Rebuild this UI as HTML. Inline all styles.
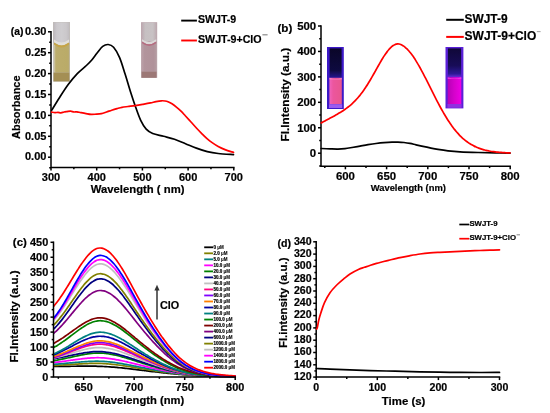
<!DOCTYPE html>
<html><head><meta charset="utf-8"><style>
html,body{margin:0;padding:0;background:#fff;}
body{width:550px;height:413px;overflow:hidden;}
text{stroke:#000;stroke-width:0.2px;} svg{display:block;will-change:transform;filter:blur(0.25px);font-family:"Liberation Sans", sans-serif;}
</style></head><body>
<svg width="550" height="413" viewBox="0 0 550 413">
<rect width="550" height="413" fill="#fff"/>
<defs><linearGradient id="gya" x1="0" x2="1" y1="0" y2="0"><stop offset="0" stop-color="#bdb8bc"/><stop offset="0.2" stop-color="#cbc8cc"/><stop offset="0.5" stop-color="#cfcdd0"/><stop offset="0.8" stop-color="#cbc8cb"/><stop offset="1" stop-color="#c0bcc0"/></linearGradient><linearGradient id="gyb" x1="0" x2="1" y1="0" y2="0"><stop offset="0" stop-color="#d2cec0"/><stop offset="0.14" stop-color="#bcad6c"/><stop offset="0.86" stop-color="#baab68"/><stop offset="1" stop-color="#b8ab72"/></linearGradient><linearGradient id="gpa" x1="0" x2="1" y1="0" y2="0"><stop offset="0" stop-color="#bca8b0"/><stop offset="0.25" stop-color="#c6c0c2"/><stop offset="0.75" stop-color="#c8c2c4"/><stop offset="1" stop-color="#bcaab0"/></linearGradient><linearGradient id="gpb" x1="0" x2="1" y1="0" y2="0"><stop offset="0" stop-color="#bba0a8"/><stop offset="0.2" stop-color="#b2949c"/><stop offset="0.8" stop-color="#b0929a"/><stop offset="1" stop-color="#b49ca2"/></linearGradient></defs>
<rect x="53" y="22" width="17" height="59.6" fill="#c2bdb8" />
<rect x="53.6" y="43" width="15.8" height="29.6" fill="url(#gyb)" />
<rect x="53.6" y="22.4" width="15.8" height="20.8" fill="url(#gya)" />
<path d="M54.0,39.6 Q61.5,45.6 69.0,39.6 L69.0,42.6 Q61.5,48.2 54.0,42.6 Z" fill="#e2e0da"/>
<path d="M54.0,42.6 Q61.5,48.2 69.0,42.6 L69.0,44.6 Q61.5,50.4 54.0,44.6 Z" fill="#c6a446"/>
<rect x="53.6" y="72.6" width="15.8" height="8.8" fill="#a48f54" />
<rect x="141" y="22.2" width="16.2" height="55.6" fill="#bfaab0" />
<rect x="141.6" y="41" width="15" height="30.6" fill="url(#gpb)" />
<rect x="141.6" y="22.6" width="15" height="18.8" fill="url(#gpa)" />
<path d="M142.0,39.2 Q149.1,44.6 156.2,39.2 L156.2,41.6 Q149.1,47.0 142.0,41.6 Z" fill="#dcd8d8"/>
<path d="M142.0,41.6 Q149.1,47.0 156.2,41.6 L156.2,43.2 Q149.1,48.6 142.0,43.2 Z" fill="#b66c80"/>
<rect x="141.6" y="71.6" width="15" height="6.2" fill="#9c7876" />
<path d="M51,31.8 L51,167.5 L233.8,167.5" fill="none" stroke="#000" stroke-width="1.5" stroke-linejoin="miter" stroke-linecap="square"/>
<line x1="51" y1="167.5" x2="51" y2="170.5" stroke="#000" stroke-width="1.5" stroke-linecap="butt"/>
<line x1="96.7" y1="167.5" x2="96.7" y2="170.5" stroke="#000" stroke-width="1.5" stroke-linecap="butt"/>
<line x1="142.4" y1="167.5" x2="142.4" y2="170.5" stroke="#000" stroke-width="1.5" stroke-linecap="butt"/>
<line x1="188.1" y1="167.5" x2="188.1" y2="170.5" stroke="#000" stroke-width="1.5" stroke-linecap="butt"/>
<line x1="233.8" y1="167.5" x2="233.8" y2="170.5" stroke="#000" stroke-width="1.5" stroke-linecap="butt"/>
<line x1="73.85" y1="167.5" x2="73.85" y2="169.3" stroke="#000" stroke-width="1.5" stroke-linecap="butt"/>
<line x1="119.55" y1="167.5" x2="119.55" y2="169.3" stroke="#000" stroke-width="1.5" stroke-linecap="butt"/>
<line x1="165.25" y1="167.5" x2="165.25" y2="169.3" stroke="#000" stroke-width="1.5" stroke-linecap="butt"/>
<line x1="210.95" y1="167.5" x2="210.95" y2="169.3" stroke="#000" stroke-width="1.5" stroke-linecap="butt"/>
<line x1="51" y1="157.2" x2="48" y2="157.2" stroke="#000" stroke-width="1.5" stroke-linecap="butt"/>
<line x1="51" y1="136.3" x2="48" y2="136.3" stroke="#000" stroke-width="1.5" stroke-linecap="butt"/>
<line x1="51" y1="115.4" x2="48" y2="115.4" stroke="#000" stroke-width="1.5" stroke-linecap="butt"/>
<line x1="51" y1="94.5" x2="48" y2="94.5" stroke="#000" stroke-width="1.5" stroke-linecap="butt"/>
<line x1="51" y1="73.6" x2="48" y2="73.6" stroke="#000" stroke-width="1.5" stroke-linecap="butt"/>
<line x1="51" y1="52.7" x2="48" y2="52.7" stroke="#000" stroke-width="1.5" stroke-linecap="butt"/>
<line x1="51" y1="31.8" x2="48" y2="31.8" stroke="#000" stroke-width="1.5" stroke-linecap="butt"/>
<line x1="51" y1="146.75" x2="49.2" y2="146.75" stroke="#000" stroke-width="1.5" stroke-linecap="butt"/>
<line x1="51" y1="125.85" x2="49.2" y2="125.85" stroke="#000" stroke-width="1.5" stroke-linecap="butt"/>
<line x1="51" y1="104.95" x2="49.2" y2="104.95" stroke="#000" stroke-width="1.5" stroke-linecap="butt"/>
<line x1="51" y1="84.05" x2="49.2" y2="84.05" stroke="#000" stroke-width="1.5" stroke-linecap="butt"/>
<line x1="51" y1="63.15" x2="49.2" y2="63.15" stroke="#000" stroke-width="1.5" stroke-linecap="butt"/>
<line x1="51" y1="42.25" x2="49.2" y2="42.25" stroke="#000" stroke-width="1.5" stroke-linecap="butt"/>
<line x1="51" y1="167.65" x2="49.2" y2="167.65" stroke="#000" stroke-width="1.5" stroke-linecap="butt"/>
<text x="46.4" y="160.4" font-size="11" text-anchor="end" font-weight="bold" fill="#000" >0.00</text>
<text x="46.4" y="139.5" font-size="11" text-anchor="end" font-weight="bold" fill="#000" >0.05</text>
<text x="46.4" y="118.6" font-size="11" text-anchor="end" font-weight="bold" fill="#000" >0.10</text>
<text x="46.4" y="97.7" font-size="11" text-anchor="end" font-weight="bold" fill="#000" >0.15</text>
<text x="46.4" y="76.8" font-size="11" text-anchor="end" font-weight="bold" fill="#000" >0.20</text>
<text x="46.4" y="55.9" font-size="11" text-anchor="end" font-weight="bold" fill="#000" >0.25</text>
<text x="46.4" y="35" font-size="11" text-anchor="end" font-weight="bold" fill="#000" >0.30</text>
<text x="10.8" y="34.8" font-size="10.3" text-anchor="start" font-weight="bold" fill="#000" >(a)</text>
<text x="51" y="180.9" font-size="11" text-anchor="middle" font-weight="bold" fill="#000" >300</text>
<text x="96.7" y="180.9" font-size="11" text-anchor="middle" font-weight="bold" fill="#000" >400</text>
<text x="142.4" y="180.9" font-size="11" text-anchor="middle" font-weight="bold" fill="#000" >500</text>
<text x="188.1" y="180.9" font-size="11" text-anchor="middle" font-weight="bold" fill="#000" >600</text>
<text x="233.8" y="180.9" font-size="11" text-anchor="middle" font-weight="bold" fill="#000" >700</text>
<text x="137.6" y="193" font-size="11.3" text-anchor="middle" font-weight="bold" fill="#000" >Wavelength ( nm)</text>
<text transform="translate(19.6,107.2) rotate(-90)" font-size="11" text-anchor="middle" font-weight="bold">Absorbance</text>
<line x1="181.2" y1="20.6" x2="196.9" y2="20.6" stroke="#000" stroke-width="1.9" stroke-linecap="butt"/>
<text x="198" y="23.3" font-size="10.6" text-anchor="start" font-weight="bold" fill="#000" >SWJT-9</text>
<line x1="181.2" y1="40.5" x2="196.9" y2="40.5" stroke="#ff0000" stroke-width="1.9" stroke-linecap="butt"/>
<text x="198" y="42.8" font-size="10.65" text-anchor="start" font-weight="bold" fill="#000" >SWJT-9+ClO</text>
<line x1="262.4" y1="34.8" x2="267.6" y2="34.8" stroke="#8a8a8a" stroke-width="1.2" stroke-linecap="butt"/>
<path d="M51.6,110.4 C52.85,108.37 56.33,102.52 59.1,98.2 C61.87,93.88 65.17,88.6 68.2,84.5 C71.23,80.4 74.27,76.77 77.3,73.6 C80.33,70.43 83.98,67.77 86.4,65.5 C88.82,63.23 89.98,62.13 91.8,60 C93.62,57.87 95.48,54.97 97.3,52.7 C99.12,50.43 100.88,47.77 102.7,46.4 C104.52,45.03 106.38,44.35 108.2,44.5 C110.02,44.65 111.7,45.12 113.6,47.3 C115.5,49.48 117.68,53.13 119.6,57.6 C121.52,62.07 123.22,68.18 125.1,74.1 C126.98,80.02 129.2,87.75 130.9,93.1 C132.6,98.45 133.67,101.65 135.3,106.2 C136.93,110.75 138.88,116.58 140.7,120.4 C142.52,124.22 144.2,126.92 146.2,129.1 C148.2,131.28 149.8,132.3 152.7,133.5 C155.6,134.7 159.97,135.33 163.6,136.3 C167.23,137.27 170.85,138.07 174.5,139.3 C178.15,140.53 181.85,142.23 185.5,143.7 C189.15,145.17 192.77,146.78 196.4,148.1 C200.03,149.42 203.67,150.7 207.3,151.6 C210.93,152.5 213.83,153 218.2,153.5 C222.57,154 230.95,154.42 233.5,154.6" fill="none" stroke="#000" stroke-width="1.7" stroke-linejoin="round" stroke-linecap="round" />
<path d="M51.6,112.1 C52.17,112.18 53.93,112.55 55,112.6 C56.07,112.65 57,112.37 58,112.4 C59,112.43 60,112.87 61,112.8 C62,112.73 63,112.2 64,112 C65,111.8 65.9,111.73 67,111.6 C68.1,111.47 69.43,111.13 70.6,111.2 C71.77,111.27 72.93,111.9 74,112 C75.07,112.1 75.87,111.7 77,111.8 C78.13,111.9 79.3,112.3 80.8,112.6 C82.3,112.9 84.28,113.3 86,113.6 C87.72,113.9 89.43,114.3 91.1,114.4 C92.77,114.5 94.28,114.33 96,114.2 C97.72,114.07 99.65,113.97 101.4,113.6 C103.15,113.23 104.78,112.57 106.5,112 C108.22,111.43 109.95,110.77 111.7,110.2 C113.45,109.63 115.28,109.08 117,108.6 C118.72,108.12 120.17,107.65 122,107.3 C123.83,106.95 125.78,106.78 128,106.5 C130.22,106.22 132.8,105.97 135.3,105.6 C137.8,105.23 140.47,104.75 143,104.3 C145.53,103.85 148.33,103.35 150.5,102.9 C152.67,102.45 154.17,101.95 156,101.6 C157.83,101.25 160,100.9 161.5,100.8 C163,100.7 163.92,100.83 165,101 C166.08,101.17 166.83,101.33 168,101.8 C169.17,102.27 170.55,102.88 172,103.8 C173.45,104.72 175.2,106.07 176.7,107.3 C178.2,108.53 179.53,109.75 181,111.2 C182.47,112.65 183.83,114.2 185.5,116 C187.17,117.8 189.18,120 191,122 C192.82,124 194.57,126.03 196.4,128 C198.23,129.97 200.18,131.98 202,133.8 C203.82,135.62 205.55,137.38 207.3,138.9 C209.05,140.42 210.68,141.63 212.5,142.9 C214.32,144.17 216.12,145.38 218.2,146.5 C220.28,147.62 222.45,148.62 225,149.6 C227.55,150.58 232.08,151.93 233.5,152.4" fill="none" stroke="#ff0000" stroke-width="1.7" stroke-linejoin="round" stroke-linecap="round" />
<defs><linearGradient id="gb1" x1="0" x2="0" y1="0" y2="1"><stop offset="0" stop-color="#0a0628"/><stop offset="0.75" stop-color="#0e0a40"/><stop offset="1" stop-color="#241690"/></linearGradient><linearGradient id="gb2" x1="0" x2="1" y1="0" y2="0"><stop offset="0" stop-color="#f064bc"/><stop offset="0.3" stop-color="#ec569e"/><stop offset="1" stop-color="#e8568e"/></linearGradient><linearGradient id="gc1" x1="0" x2="0" y1="0" y2="1"><stop offset="0" stop-color="#100838"/><stop offset="0.6" stop-color="#180c58"/><stop offset="0.88" stop-color="#2c1896"/><stop offset="1" stop-color="#6a2ad8"/></linearGradient><linearGradient id="gc2" x1="0" x2="1" y1="0" y2="0"><stop offset="0" stop-color="#b800b8"/><stop offset="0.5" stop-color="#d602cc"/><stop offset="1" stop-color="#ee00e4"/></linearGradient></defs>
<rect x="327" y="47" width="16.8" height="62" fill="#3c18c8" />
<rect x="329.6" y="48.4" width="12" height="29.4" fill="url(#gb1)" />
<rect x="329.4" y="77.8" width="12.4" height="26.4" fill="url(#gb2)" />
<path d="M329.4,77.8 Q335.6,80.4 341.8,77.8 L341.8,79.4 L329.4,79.4 Z" fill="#f88ac8" opacity="0.8"/>
<rect x="329" y="104.2" width="13.2" height="3.8" fill="#9a5cf0" />
<rect x="445.5" y="47" width="17.9" height="61.4" fill="#5a20d8" />
<rect x="447.9" y="48.4" width="13.2" height="28.8" fill="url(#gc1)" />
<rect x="447.7" y="77.2" width="13.6" height="26.8" fill="url(#gc2)" />
<path d="M447.7,77.2 Q454.5,80.0 461.3,77.2 L461.3,79.0 L447.7,79.0 Z" fill="#f040e8" opacity="0.8"/>
<rect x="447.4" y="104" width="14.2" height="3.8" fill="#9030e0" />
<path d="M321,26 L321,166.3 L510.2,166.3" fill="none" stroke="#000" stroke-width="1.5" stroke-linejoin="miter" stroke-linecap="square"/>
<line x1="345.4" y1="166.3" x2="345.4" y2="169.3" stroke="#000" stroke-width="1.5" stroke-linecap="butt"/>
<line x1="386.6" y1="166.3" x2="386.6" y2="169.3" stroke="#000" stroke-width="1.5" stroke-linecap="butt"/>
<line x1="427.8" y1="166.3" x2="427.8" y2="169.3" stroke="#000" stroke-width="1.5" stroke-linecap="butt"/>
<line x1="469" y1="166.3" x2="469" y2="169.3" stroke="#000" stroke-width="1.5" stroke-linecap="butt"/>
<line x1="510.2" y1="166.3" x2="510.2" y2="169.3" stroke="#000" stroke-width="1.5" stroke-linecap="butt"/>
<line x1="324.8" y1="166.3" x2="324.8" y2="168.1" stroke="#000" stroke-width="1.5" stroke-linecap="butt"/>
<line x1="366" y1="166.3" x2="366" y2="168.1" stroke="#000" stroke-width="1.5" stroke-linecap="butt"/>
<line x1="407.2" y1="166.3" x2="407.2" y2="168.1" stroke="#000" stroke-width="1.5" stroke-linecap="butt"/>
<line x1="448.4" y1="166.3" x2="448.4" y2="168.1" stroke="#000" stroke-width="1.5" stroke-linecap="butt"/>
<line x1="489.6" y1="166.3" x2="489.6" y2="168.1" stroke="#000" stroke-width="1.5" stroke-linecap="butt"/>
<line x1="321" y1="153.2" x2="318" y2="153.2" stroke="#000" stroke-width="1.5" stroke-linecap="butt"/>
<line x1="321" y1="127.76" x2="318" y2="127.76" stroke="#000" stroke-width="1.5" stroke-linecap="butt"/>
<line x1="321" y1="102.32" x2="318" y2="102.32" stroke="#000" stroke-width="1.5" stroke-linecap="butt"/>
<line x1="321" y1="76.88" x2="318" y2="76.88" stroke="#000" stroke-width="1.5" stroke-linecap="butt"/>
<line x1="321" y1="51.44" x2="318" y2="51.44" stroke="#000" stroke-width="1.5" stroke-linecap="butt"/>
<line x1="321" y1="26" x2="318" y2="26" stroke="#000" stroke-width="1.5" stroke-linecap="butt"/>
<line x1="321" y1="140.48" x2="319.2" y2="140.48" stroke="#000" stroke-width="1.5" stroke-linecap="butt"/>
<line x1="321" y1="115.04" x2="319.2" y2="115.04" stroke="#000" stroke-width="1.5" stroke-linecap="butt"/>
<line x1="321" y1="89.6" x2="319.2" y2="89.6" stroke="#000" stroke-width="1.5" stroke-linecap="butt"/>
<line x1="321" y1="64.16" x2="319.2" y2="64.16" stroke="#000" stroke-width="1.5" stroke-linecap="butt"/>
<line x1="321" y1="38.72" x2="319.2" y2="38.72" stroke="#000" stroke-width="1.5" stroke-linecap="butt"/>
<line x1="321" y1="165.92" x2="319.2" y2="165.92" stroke="#000" stroke-width="1.5" stroke-linecap="butt"/>
<text x="316.2" y="157" font-size="11.4" text-anchor="end" font-weight="bold" fill="#000" >0</text>
<text x="316.2" y="131.56" font-size="11.4" text-anchor="end" font-weight="bold" fill="#000" >100</text>
<text x="316.2" y="106.12" font-size="11.4" text-anchor="end" font-weight="bold" fill="#000" >200</text>
<text x="316.2" y="80.68" font-size="11.4" text-anchor="end" font-weight="bold" fill="#000" >300</text>
<text x="316.2" y="55.24" font-size="11.4" text-anchor="end" font-weight="bold" fill="#000" >400</text>
<text x="316.2" y="29.8" font-size="11.4" text-anchor="end" font-weight="bold" fill="#000" >500</text>
<text x="277.4" y="32.1" font-size="11.65" text-anchor="start" font-weight="bold" fill="#000" >(b)</text>
<text x="345.4" y="180.4" font-size="11.4" text-anchor="middle" font-weight="bold" fill="#000" >600</text>
<text x="386.6" y="180.4" font-size="11.4" text-anchor="middle" font-weight="bold" fill="#000" >650</text>
<text x="427.8" y="180.4" font-size="11.4" text-anchor="middle" font-weight="bold" fill="#000" >700</text>
<text x="469" y="180.4" font-size="11.4" text-anchor="middle" font-weight="bold" fill="#000" >750</text>
<text x="510.2" y="180.4" font-size="11.4" text-anchor="middle" font-weight="bold" fill="#000" >800</text>
<text x="408.3" y="191.4" font-size="9.4" text-anchor="middle" font-weight="bold" fill="#000" >Wavelength (nm)</text>
<text transform="translate(288.6,94.6) rotate(-90)" font-size="11.8" text-anchor="middle" font-weight="bold">Fl.Intensity (a.u.)</text>
<line x1="446.2" y1="19.8" x2="463.8" y2="19.8" stroke="#000" stroke-width="2.0" stroke-linecap="butt"/>
<text x="464.6" y="23" font-size="11.9" text-anchor="start" font-weight="bold" fill="#000" >SWJT-9</text>
<line x1="446.2" y1="36.9" x2="463.8" y2="36.9" stroke="#ff0000" stroke-width="2.0" stroke-linecap="butt"/>
<text x="464.6" y="40" font-size="12.0" text-anchor="start" font-weight="bold" fill="#000" >SWJT-9+ClO</text>
<line x1="536.8" y1="31.6" x2="540.6" y2="31.6" stroke="#a8a8a8" stroke-width="1.1" stroke-linecap="butt"/>
<path d="M321.2,148.5 C322.67,148.57 327.2,148.8 330,148.9 C332.8,149 335.5,149.15 338,149.1 C340.5,149.05 342.67,148.87 345,148.6 C347.33,148.33 349.5,147.92 352,147.5 C354.5,147.08 357.33,146.57 360,146.1 C362.67,145.63 365.33,145.13 368,144.7 C370.67,144.27 373.33,143.85 376,143.5 C378.67,143.15 381.33,142.83 384,142.6 C386.67,142.37 389.67,142.18 392,142.1 C394.33,142.02 396,142.03 398,142.1 C400,142.17 402,142.28 404,142.5 C406,142.72 408,143.02 410,143.4 C412,143.78 413.83,144.3 416,144.8 C418.17,145.3 420.67,145.88 423,146.4 C425.33,146.92 427.5,147.4 430,147.9 C432.5,148.4 435,148.92 438,149.4 C441,149.88 444.33,150.4 448,150.8 C451.67,151.2 455,151.52 460,151.8 C465,152.08 472.17,152.32 478,152.5 C483.83,152.68 489.67,152.78 495,152.9 C500.33,153.02 507.5,153.15 510,153.2" fill="none" stroke="#000" stroke-width="1.7" stroke-linejoin="round" stroke-linecap="round" />
<path d="M321.2,122.9 C321.45,122.77 322.2,122.37 322.7,122.1 C323.2,121.83 323.7,121.57 324.2,121.3 C324.7,121.03 325.2,120.77 325.7,120.5 C326.2,120.23 326.7,119.97 327.2,119.7 C327.7,119.43 328.2,119.17 328.7,118.9 C329.2,118.63 329.7,118.36 330.2,118.09 C330.7,117.83 331.2,117.56 331.7,117.29 C332.2,117.02 332.7,116.74 333.2,116.47 C333.7,116.2 334.2,115.92 334.7,115.64 C335.2,115.37 335.7,115.09 336.2,114.8 C336.7,114.52 337.2,114.23 337.7,113.94 C338.2,113.65 338.7,113.36 339.2,113.06 C339.7,112.77 340.2,112.46 340.7,112.16 C341.2,111.85 341.7,111.53 342.2,111.21 C342.7,110.89 343.2,110.57 343.7,110.23 C344.2,109.9 344.7,109.56 345.2,109.21 C345.7,108.86 346.2,108.5 346.7,108.13 C347.2,107.76 347.7,107.38 348.2,106.99 C348.7,106.6 349.2,106.2 349.7,105.79 C350.2,105.38 350.7,104.95 351.2,104.52 C351.7,104.08 352.2,103.63 352.7,103.16 C353.2,102.69 353.7,102.21 354.2,101.72 C354.7,101.22 355.2,100.71 355.7,100.18 C356.2,99.65 356.7,99.11 357.2,98.55 C357.7,97.99 358.2,97.41 358.7,96.82 C359.2,96.22 359.7,95.61 360.2,94.98 C360.7,94.34 361.2,93.7 361.7,93.03 C362.2,92.36 362.7,91.68 363.2,90.97 C363.7,90.27 364.2,89.55 364.7,88.82 C365.2,88.08 365.7,87.32 366.2,86.55 C366.7,85.78 367.2,85 367.7,84.2 C368.2,83.4 368.7,82.58 369.2,81.75 C369.7,80.93 370.2,80.08 370.7,79.23 C371.2,78.38 371.7,77.52 372.2,76.64 C372.7,75.77 373.2,74.89 373.7,74.01 C374.2,73.13 374.7,72.23 375.2,71.34 C375.7,70.45 376.2,69.55 376.7,68.66 C377.2,67.77 377.7,66.88 378.2,65.99 C378.7,65.11 379.2,64.23 379.7,63.36 C380.2,62.49 380.7,61.63 381.2,60.78 C381.7,59.94 382.2,59.1 382.7,58.29 C383.2,57.48 383.7,56.68 384.2,55.91 C384.7,55.14 385.2,54.39 385.7,53.67 C386.2,52.96 386.7,52.26 387.2,51.61 C387.7,50.95 388.2,50.32 388.7,49.73 C389.2,49.14 389.7,48.59 390.2,48.08 C390.7,47.57 391.2,47.1 391.7,46.67 C392.2,46.25 392.7,45.86 393.2,45.53 C393.7,45.2 394.2,44.91 394.7,44.68 C395.2,44.45 395.7,44.26 396.2,44.13 C396.7,44 397.2,43.92 397.7,43.9 C398.2,43.88 398.7,43.91 399.2,44 C399.7,44.09 400.2,44.24 400.7,44.44 C401.2,44.64 401.7,44.91 402.2,45.19 C402.7,45.48 403.2,45.81 403.7,46.17 C404.2,46.52 404.7,46.91 405.2,47.33 C405.7,47.75 406.2,48.2 406.7,48.68 C407.2,49.16 407.7,49.67 408.2,50.22 C408.7,50.76 409.2,51.33 409.7,51.93 C410.2,52.52 410.7,53.15 411.2,53.8 C411.7,54.46 412.2,55.14 412.7,55.84 C413.2,56.55 413.7,57.28 414.2,58.03 C414.7,58.78 415.2,59.56 415.7,60.36 C416.2,61.15 416.7,61.97 417.2,62.81 C417.7,63.65 418.2,64.5 418.7,65.38 C419.2,66.25 419.7,67.14 420.2,68.04 C420.7,68.95 421.2,69.87 421.7,70.8 C422.2,71.73 422.7,72.68 423.2,73.64 C423.7,74.59 424.2,75.56 424.7,76.53 C425.2,77.5 425.7,78.49 426.2,79.47 C426.7,80.46 427.2,81.46 427.7,82.45 C428.2,83.45 428.7,84.45 429.2,85.45 C429.7,86.45 430.2,87.46 430.7,88.46 C431.2,89.46 431.7,90.46 432.2,91.46 C432.7,92.46 433.2,93.46 433.7,94.45 C434.2,95.44 434.7,96.43 435.2,97.41 C435.7,98.39 436.2,99.36 436.7,100.33 C437.2,101.29 437.7,102.25 438.2,103.2 C438.7,104.15 439.2,105.09 439.7,106.02 C440.2,106.95 440.7,107.86 441.2,108.77 C441.7,109.67 442.2,110.57 442.7,111.45 C443.2,112.33 443.7,113.19 444.2,114.04 C444.7,114.9 445.2,115.73 445.7,116.56 C446.2,117.38 446.7,118.19 447.2,118.98 C447.7,119.77 448.2,120.55 448.7,121.31 C449.2,122.07 449.7,122.81 450.2,123.54 C450.7,124.27 451.2,124.98 451.7,125.67 C452.2,126.36 452.7,127.04 453.2,127.7 C453.7,128.36 454.2,129 454.7,129.63 C455.2,130.26 455.7,130.86 456.2,131.46 C456.7,132.05 457.2,132.62 457.7,133.18 C458.2,133.74 458.7,134.28 459.2,134.81 C459.7,135.34 460.2,135.84 460.7,136.34 C461.2,136.83 461.7,137.31 462.2,137.77 C462.7,138.23 463.2,138.68 463.7,139.11 C464.2,139.54 464.7,139.95 465.2,140.36 C465.7,140.76 466.2,141.14 466.7,141.52 C467.2,141.89 467.7,142.25 468.2,142.59 C468.7,142.94 469.2,143.27 469.7,143.59 C470.2,143.91 470.7,144.21 471.2,144.51 C471.7,144.8 472.2,145.08 472.7,145.36 C473.2,145.63 473.7,145.88 474.2,146.13 C474.7,146.38 475.2,146.62 475.7,146.85 C476.2,147.07 476.7,147.29 477.2,147.5 C477.7,147.71 478.2,147.91 478.7,148.1 C479.2,148.29 479.7,148.47 480.2,148.64 C480.7,148.81 481.2,148.97 481.7,149.13 C482.2,149.29 482.7,149.44 483.2,149.58 C483.7,149.72 484.2,149.86 484.7,149.98 C485.2,150.11 485.7,150.23 486.2,150.35 C486.7,150.47 487.2,150.58 487.7,150.68 C488.2,150.79 488.7,150.88 489.2,150.98 C489.7,151.07 490.2,151.16 490.7,151.24 C491.2,151.33 491.7,151.41 492.2,151.48 C492.7,151.56 493.2,151.63 493.7,151.7 C494.2,151.77 494.7,151.83 495.2,151.89 C495.7,151.95 496.2,152.01 496.7,152.06 C497.2,152.12 497.7,152.17 498.2,152.22 C498.7,152.26 499.2,152.31 499.7,152.35 C500.2,152.4 500.7,152.44 501.2,152.47 C501.7,152.51 502.2,152.55 502.7,152.58 C503.2,152.62 503.7,152.65 504.2,152.68 C504.7,152.71 505.2,152.73 505.7,152.76 C506.2,152.79 506.7,152.81 507.2,152.84 C507.7,152.86 508.23,152.88 508.7,152.9 C509.17,152.92 509.78,152.95 510,152.95" fill="none" stroke="#ff0000" stroke-width="1.7" stroke-linejoin="round" stroke-linecap="round" />
<defs><clipPath id="cpc"><rect x="53.5" y="200" width="190" height="177.6"/></clipPath></defs><g clip-path="url(#cpc)">
<path d="M53.3,366.52 C53.64,366.52 54.65,366.5 55.32,366.49 C55.99,366.48 56.67,366.46 57.34,366.45 C58.02,366.44 58.69,366.43 59.36,366.42 C60.04,366.41 60.71,366.4 61.38,366.39 C62.06,366.38 62.73,366.37 63.41,366.36 C64.08,366.35 64.75,366.34 65.43,366.33 C66.1,366.32 66.77,366.32 67.45,366.31 C68.12,366.3 68.8,366.29 69.47,366.28 C70.14,366.28 70.82,366.27 71.49,366.26 C72.16,366.26 72.84,366.25 73.51,366.24 C74.18,366.24 74.86,366.23 75.53,366.23 C76.21,366.22 76.88,366.21 77.55,366.21 C78.23,366.2 78.9,366.2 79.57,366.2 C80.25,366.19 80.92,366.19 81.6,366.18 C82.27,366.18 82.94,366.18 83.62,366.17 C84.29,366.17 84.96,366.17 85.64,366.17 C86.31,366.17 86.99,366.16 87.66,366.16 C88.33,366.16 89.01,366.16 89.68,366.16 C90.35,366.16 91.03,366.16 91.7,366.17 C92.37,366.17 93.05,366.18 93.72,366.19 C94.4,366.2 95.07,366.21 95.74,366.22 C96.42,366.24 97.09,366.26 97.76,366.28 C98.44,366.3 99.11,366.32 99.79,366.34 C100.46,366.37 101.13,366.4 101.81,366.43 C102.48,366.46 103.15,366.49 103.83,366.52 C104.5,366.56 105.18,366.59 105.85,366.63 C106.52,366.67 107.2,366.71 107.87,366.76 C108.54,366.8 109.22,366.85 109.89,366.9 C110.56,366.94 111.24,366.99 111.91,367.05 C112.59,367.1 113.26,367.15 113.93,367.21 C114.61,367.26 115.28,367.32 115.95,367.38 C116.63,367.44 117.3,367.5 117.98,367.56 C118.65,367.63 119.32,367.69 120,367.76 C120.67,367.82 121.34,367.89 122.02,367.96 C122.69,368.03 123.37,368.1 124.04,368.17 C124.71,368.24 125.39,368.32 126.06,368.39 C126.73,368.46 127.41,368.54 128.08,368.61 C128.75,368.69 129.43,368.77 130.1,368.84 C130.78,368.92 131.45,369 132.12,369.08 C132.8,369.16 133.47,369.24 134.14,369.32 C134.82,369.4 135.49,369.48 136.17,369.56 C136.84,369.64 137.51,369.73 138.19,369.81 C138.86,369.89 139.53,369.97 140.21,370.06 C140.88,370.14 141.56,370.22 142.23,370.3 C142.9,370.39 143.58,370.47 144.25,370.55 C144.92,370.64 145.6,370.72 146.27,370.8 C146.94,370.88 147.62,370.97 148.29,371.05 C148.97,371.13 149.64,371.21 150.31,371.29 C150.99,371.38 151.66,371.46 152.33,371.54 C153.01,371.62 153.68,371.7 154.36,371.78 C155.03,371.86 155.7,371.94 156.38,372.01 C157.05,372.09 157.72,372.17 158.4,372.25 C159.07,372.32 159.75,372.4 160.42,372.48 C161.09,372.55 161.77,372.63 162.44,372.7 C163.11,372.77 163.79,372.85 164.46,372.92 C165.13,372.99 165.81,373.06 166.48,373.13 C167.16,373.2 167.83,373.27 168.5,373.34 C169.18,373.41 169.85,373.47 170.52,373.54 C171.2,373.61 171.87,373.67 172.55,373.73 C173.22,373.8 173.89,373.86 174.57,373.92 C175.24,373.98 175.91,374.04 176.59,374.1 C177.26,374.16 177.94,374.22 178.61,374.28 C179.28,374.34 179.96,374.39 180.63,374.45 C181.3,374.5 181.98,374.55 182.65,374.61 C183.32,374.66 184,374.71 184.67,374.76 C185.35,374.81 186.02,374.86 186.69,374.91 C187.37,374.95 188.04,375 188.71,375.05 C189.39,375.09 190.06,375.14 190.74,375.18 C191.41,375.22 192.08,375.27 192.76,375.31 C193.43,375.35 194.1,375.39 194.78,375.43 C195.45,375.47 196.13,375.5 196.8,375.54 C197.47,375.58 198.15,375.61 198.82,375.65 C199.49,375.68 200.17,375.72 200.84,375.75 C201.51,375.78 202.19,375.81 202.86,375.84 C203.54,375.88 204.21,375.9 204.88,375.93 C205.56,375.96 206.23,375.99 206.9,376.02 C207.58,376.04 208.25,376.07 208.93,376.1 C209.6,376.12 210.27,376.15 210.95,376.17 C211.62,376.19 212.29,376.22 212.97,376.24 C213.64,376.26 214.32,376.28 214.99,376.3 C215.66,376.32 216.34,376.34 217.01,376.36 C217.68,376.38 218.36,376.4 219.03,376.42 C219.7,376.43 220.38,376.45 221.05,376.47 C221.73,376.48 222.4,376.5 223.07,376.52 C223.75,376.53 224.42,376.55 225.09,376.56 C225.77,376.57 226.44,376.59 227.12,376.6 C227.79,376.61 228.46,376.62 229.14,376.64 C229.81,376.65 230.48,376.66 231.16,376.67 C231.83,376.68 232.51,376.69 233.18,376.7 C233.85,376.71 234.86,376.73 235.2,376.73" fill="none" stroke="#000000" stroke-width="1.7" stroke-linejoin="round" stroke-linecap="round" />
<path d="M53.3,365.54 C53.64,365.52 54.65,365.46 55.32,365.43 C55.99,365.39 56.67,365.35 57.34,365.31 C58.02,365.27 58.69,365.23 59.36,365.19 C60.04,365.15 60.71,365.11 61.38,365.07 C62.06,365.03 62.73,364.98 63.41,364.94 C64.08,364.9 64.75,364.86 65.43,364.81 C66.1,364.77 66.77,364.73 67.45,364.68 C68.12,364.64 68.8,364.6 69.47,364.55 C70.14,364.51 70.82,364.47 71.49,364.42 C72.16,364.38 72.84,364.34 73.51,364.3 C74.18,364.25 74.86,364.21 75.53,364.17 C76.21,364.13 76.88,364.09 77.55,364.05 C78.23,364.01 78.9,363.97 79.57,363.93 C80.25,363.9 80.92,363.86 81.6,363.82 C82.27,363.79 82.94,363.75 83.62,363.72 C84.29,363.69 84.96,363.65 85.64,363.62 C86.31,363.59 86.99,363.57 87.66,363.54 C88.33,363.51 89.01,363.49 89.68,363.46 C90.35,363.44 91.03,363.42 91.7,363.41 C92.37,363.39 93.05,363.38 93.72,363.38 C94.4,363.37 95.07,363.37 95.74,363.37 C96.42,363.37 97.09,363.38 97.76,363.39 C98.44,363.4 99.11,363.42 99.79,363.44 C100.46,363.46 101.13,363.49 101.81,363.52 C102.48,363.55 103.15,363.58 103.83,363.62 C104.5,363.66 105.18,363.7 105.85,363.75 C106.52,363.8 107.2,363.85 107.87,363.9 C108.54,363.96 109.22,364.02 109.89,364.08 C110.56,364.14 111.24,364.21 111.91,364.28 C112.59,364.35 113.26,364.42 113.93,364.49 C114.61,364.57 115.28,364.65 115.95,364.73 C116.63,364.81 117.3,364.89 117.98,364.98 C118.65,365.07 119.32,365.16 120,365.25 C120.67,365.34 121.34,365.44 122.02,365.53 C122.69,365.63 123.37,365.73 124.04,365.83 C124.71,365.93 125.39,366.03 126.06,366.13 C126.73,366.23 127.41,366.34 128.08,366.45 C128.75,366.55 129.43,366.66 130.1,366.77 C130.78,366.88 131.45,366.99 132.12,367.1 C132.8,367.21 133.47,367.32 134.14,367.43 C134.82,367.54 135.49,367.65 136.17,367.76 C136.84,367.88 137.51,367.99 138.19,368.1 C138.86,368.21 139.53,368.33 140.21,368.44 C140.88,368.55 141.56,368.66 142.23,368.77 C142.9,368.89 143.58,369 144.25,369.11 C144.92,369.22 145.6,369.33 146.27,369.44 C146.94,369.55 147.62,369.66 148.29,369.77 C148.97,369.88 149.64,369.99 150.31,370.1 C150.99,370.21 151.66,370.32 152.33,370.42 C153.01,370.53 153.68,370.63 154.36,370.74 C155.03,370.84 155.7,370.95 156.38,371.05 C157.05,371.15 157.72,371.26 158.4,371.36 C159.07,371.46 159.75,371.56 160.42,371.65 C161.09,371.75 161.77,371.85 162.44,371.95 C163.11,372.04 163.79,372.14 164.46,372.23 C165.13,372.32 165.81,372.41 166.48,372.5 C167.16,372.59 167.83,372.68 168.5,372.77 C169.18,372.86 169.85,372.94 170.52,373.03 C171.2,373.11 171.87,373.19 172.55,373.27 C173.22,373.36 173.89,373.44 174.57,373.51 C175.24,373.59 175.91,373.67 176.59,373.74 C177.26,373.81 177.94,373.89 178.61,373.96 C179.28,374.03 179.96,374.1 180.63,374.17 C181.3,374.23 181.98,374.3 182.65,374.36 C183.32,374.43 184,374.49 184.67,374.55 C185.35,374.61 186.02,374.67 186.69,374.72 C187.37,374.78 188.04,374.84 188.71,374.89 C189.39,374.94 190.06,375 190.74,375.05 C191.41,375.1 192.08,375.15 192.76,375.19 C193.43,375.24 194.1,375.29 194.78,375.33 C195.45,375.38 196.13,375.42 196.8,375.46 C197.47,375.5 198.15,375.54 198.82,375.58 C199.49,375.62 200.17,375.66 200.84,375.7 C201.51,375.73 202.19,375.77 202.86,375.8 C203.54,375.84 204.21,375.87 204.88,375.9 C205.56,375.93 206.23,375.96 206.9,375.99 C207.58,376.02 208.25,376.05 208.93,376.08 C209.6,376.1 210.27,376.13 210.95,376.15 C211.62,376.18 212.29,376.2 212.97,376.23 C213.64,376.25 214.32,376.27 214.99,376.29 C215.66,376.31 216.34,376.33 217.01,376.35 C217.68,376.37 218.36,376.39 219.03,376.41 C219.7,376.43 220.38,376.45 221.05,376.46 C221.73,376.48 222.4,376.5 223.07,376.51 C223.75,376.53 224.42,376.54 225.09,376.56 C225.77,376.57 226.44,376.58 227.12,376.6 C227.79,376.61 228.46,376.62 229.14,376.63 C229.81,376.65 230.48,376.66 231.16,376.67 C231.83,376.68 232.51,376.69 233.18,376.7 C233.85,376.71 234.86,376.73 235.2,376.73" fill="none" stroke="#808000" stroke-width="1.7" stroke-linejoin="round" stroke-linecap="round" />
<path d="M53.3,364.34 C53.64,364.31 54.65,364.24 55.32,364.19 C55.99,364.14 56.67,364.09 57.34,364.03 C58.02,363.98 58.69,363.92 59.36,363.86 C60.04,363.81 60.71,363.75 61.38,363.69 C62.06,363.63 62.73,363.57 63.41,363.51 C64.08,363.45 64.75,363.39 65.43,363.33 C66.1,363.27 66.77,363.21 67.45,363.15 C68.12,363.08 68.8,363.02 69.47,362.96 C70.14,362.9 70.82,362.84 71.49,362.78 C72.16,362.71 72.84,362.65 73.51,362.59 C74.18,362.53 74.86,362.47 75.53,362.41 C76.21,362.35 76.88,362.29 77.55,362.24 C78.23,362.18 78.9,362.12 79.57,362.07 C80.25,362.01 80.92,361.96 81.6,361.9 C82.27,361.85 82.94,361.8 83.62,361.75 C84.29,361.7 84.96,361.66 85.64,361.61 C86.31,361.57 86.99,361.52 87.66,361.48 C88.33,361.44 89.01,361.41 89.68,361.37 C90.35,361.34 91.03,361.31 91.7,361.28 C92.37,361.26 93.05,361.24 93.72,361.23 C94.4,361.21 95.07,361.2 95.74,361.2 C96.42,361.2 97.09,361.2 97.76,361.21 C98.44,361.22 99.11,361.23 99.79,361.26 C100.46,361.28 101.13,361.3 101.81,361.34 C102.48,361.37 103.15,361.41 103.83,361.45 C104.5,361.49 105.18,361.54 105.85,361.59 C106.52,361.65 107.2,361.71 107.87,361.77 C108.54,361.83 109.22,361.9 109.89,361.97 C110.56,362.05 111.24,362.12 111.91,362.21 C112.59,362.29 113.26,362.37 113.93,362.46 C114.61,362.55 115.28,362.64 115.95,362.74 C116.63,362.84 117.3,362.94 117.98,363.04 C118.65,363.14 119.32,363.25 120,363.36 C120.67,363.47 121.34,363.58 122.02,363.69 C122.69,363.81 123.37,363.93 124.04,364.05 C124.71,364.16 125.39,364.29 126.06,364.41 C126.73,364.53 127.41,364.66 128.08,364.78 C128.75,364.91 129.43,365.04 130.1,365.17 C130.78,365.3 131.45,365.43 132.12,365.56 C132.8,365.69 133.47,365.82 134.14,365.96 C134.82,366.09 135.49,366.22 136.17,366.35 C136.84,366.49 137.51,366.62 138.19,366.75 C138.86,366.89 139.53,367.02 140.21,367.15 C140.88,367.29 141.56,367.42 142.23,367.55 C142.9,367.68 143.58,367.82 144.25,367.95 C144.92,368.08 145.6,368.21 146.27,368.34 C146.94,368.47 147.62,368.6 148.29,368.73 C148.97,368.86 149.64,368.99 150.31,369.11 C150.99,369.24 151.66,369.37 152.33,369.49 C153.01,369.62 153.68,369.74 154.36,369.86 C155.03,369.99 155.7,370.11 156.38,370.23 C157.05,370.35 157.72,370.47 158.4,370.59 C159.07,370.7 159.75,370.82 160.42,370.94 C161.09,371.05 161.77,371.16 162.44,371.28 C163.11,371.39 163.79,371.5 164.46,371.61 C165.13,371.72 165.81,371.82 166.48,371.93 C167.16,372.03 167.83,372.14 168.5,372.24 C169.18,372.34 169.85,372.44 170.52,372.54 C171.2,372.63 171.87,372.73 172.55,372.82 C173.22,372.92 173.89,373.01 174.57,373.1 C175.24,373.19 175.91,373.28 176.59,373.36 C177.26,373.45 177.94,373.53 178.61,373.61 C179.28,373.7 179.96,373.78 180.63,373.85 C181.3,373.93 181.98,374.01 182.65,374.08 C183.32,374.15 184,374.22 184.67,374.29 C185.35,374.36 186.02,374.43 186.69,374.49 C187.37,374.56 188.04,374.62 188.71,374.68 C189.39,374.74 190.06,374.8 190.74,374.86 C191.41,374.92 192.08,374.97 192.76,375.03 C193.43,375.08 194.1,375.13 194.78,375.18 C195.45,375.23 196.13,375.28 196.8,375.33 C197.47,375.37 198.15,375.42 198.82,375.46 C199.49,375.51 200.17,375.55 200.84,375.59 C201.51,375.63 202.19,375.67 202.86,375.71 C203.54,375.74 204.21,375.78 204.88,375.81 C205.56,375.85 206.23,375.88 206.9,375.91 C207.58,375.95 208.25,375.98 208.93,376.01 C209.6,376.04 210.27,376.06 210.95,376.09 C211.62,376.12 212.29,376.14 212.97,376.17 C213.64,376.19 214.32,376.22 214.99,376.24 C215.66,376.26 216.34,376.29 217.01,376.31 C217.68,376.33 218.36,376.35 219.03,376.37 C219.7,376.39 220.38,376.41 221.05,376.42 C221.73,376.44 222.4,376.46 223.07,376.48 C223.75,376.49 224.42,376.51 225.09,376.52 C225.77,376.54 226.44,376.55 227.12,376.57 C227.79,376.58 228.46,376.6 229.14,376.61 C229.81,376.62 230.48,376.64 231.16,376.65 C231.83,376.66 232.51,376.67 233.18,376.68 C233.85,376.7 234.86,376.71 235.2,376.72" fill="none" stroke="#008080" stroke-width="1.7" stroke-linejoin="round" stroke-linecap="round" />
<path d="M53.3,362.54 C53.64,362.51 54.65,362.4 55.32,362.33 C55.99,362.25 56.67,362.17 57.34,362.09 C58.02,362.01 58.69,361.93 59.36,361.85 C60.04,361.76 60.71,361.68 61.38,361.59 C62.06,361.5 62.73,361.41 63.41,361.32 C64.08,361.23 64.75,361.14 65.43,361.05 C66.1,360.96 66.77,360.86 67.45,360.77 C68.12,360.68 68.8,360.58 69.47,360.49 C70.14,360.39 70.82,360.3 71.49,360.2 C72.16,360.11 72.84,360.02 73.51,359.93 C74.18,359.83 74.86,359.74 75.53,359.65 C76.21,359.56 76.88,359.47 77.55,359.38 C78.23,359.29 78.9,359.2 79.57,359.12 C80.25,359.03 80.92,358.95 81.6,358.87 C82.27,358.78 82.94,358.71 83.62,358.63 C84.29,358.55 84.96,358.48 85.64,358.41 C86.31,358.34 86.99,358.28 87.66,358.21 C88.33,358.15 89.01,358.09 89.68,358.04 C90.35,357.98 91.03,357.94 91.7,357.89 C92.37,357.85 93.05,357.82 93.72,357.79 C94.4,357.76 95.07,357.74 95.74,357.73 C96.42,357.72 97.09,357.71 97.76,357.72 C98.44,357.72 99.11,357.73 99.79,357.75 C100.46,357.77 101.13,357.8 101.81,357.84 C102.48,357.87 103.15,357.91 103.83,357.96 C104.5,358.01 105.18,358.07 105.85,358.14 C106.52,358.2 107.2,358.27 107.87,358.35 C108.54,358.42 109.22,358.51 109.89,358.6 C110.56,358.69 111.24,358.78 111.91,358.88 C112.59,358.98 113.26,359.09 113.93,359.2 C114.61,359.31 115.28,359.43 115.95,359.55 C116.63,359.67 117.3,359.8 117.98,359.93 C118.65,360.06 119.32,360.19 120,360.33 C120.67,360.47 121.34,360.61 122.02,360.75 C122.69,360.9 123.37,361.05 124.04,361.2 C124.71,361.35 125.39,361.5 126.06,361.66 C126.73,361.81 127.41,361.97 128.08,362.13 C128.75,362.29 129.43,362.45 130.1,362.62 C130.78,362.78 131.45,362.94 132.12,363.11 C132.8,363.27 133.47,363.44 134.14,363.61 C134.82,363.78 135.49,363.94 136.17,364.11 C136.84,364.28 137.51,364.45 138.19,364.61 C138.86,364.78 139.53,364.95 140.21,365.11 C140.88,365.28 141.56,365.45 142.23,365.61 C142.9,365.78 143.58,365.94 144.25,366.11 C144.92,366.27 145.6,366.43 146.27,366.6 C146.94,366.76 147.62,366.92 148.29,367.08 C148.97,367.24 149.64,367.4 150.31,367.56 C150.99,367.71 151.66,367.87 152.33,368.03 C153.01,368.18 153.68,368.33 154.36,368.49 C155.03,368.64 155.7,368.79 156.38,368.94 C157.05,369.09 157.72,369.23 158.4,369.38 C159.07,369.53 159.75,369.67 160.42,369.81 C161.09,369.95 161.77,370.09 162.44,370.23 C163.11,370.37 163.79,370.5 164.46,370.64 C165.13,370.77 165.81,370.9 166.48,371.03 C167.16,371.16 167.83,371.29 168.5,371.41 C169.18,371.54 169.85,371.66 170.52,371.78 C171.2,371.9 171.87,372.02 172.55,372.13 C173.22,372.25 173.89,372.36 174.57,372.47 C175.24,372.58 175.91,372.68 176.59,372.79 C177.26,372.89 177.94,372.99 178.61,373.09 C179.28,373.19 179.96,373.29 180.63,373.38 C181.3,373.47 181.98,373.56 182.65,373.65 C183.32,373.74 184,373.82 184.67,373.91 C185.35,373.99 186.02,374.07 186.69,374.15 C187.37,374.22 188.04,374.3 188.71,374.37 C189.39,374.44 190.06,374.51 190.74,374.58 C191.41,374.65 192.08,374.71 192.76,374.78 C193.43,374.84 194.1,374.9 194.78,374.96 C195.45,375.02 196.13,375.07 196.8,375.13 C197.47,375.18 198.15,375.24 198.82,375.29 C199.49,375.34 200.17,375.38 200.84,375.43 C201.51,375.48 202.19,375.52 202.86,375.57 C203.54,375.61 204.21,375.65 204.88,375.69 C205.56,375.73 206.23,375.77 206.9,375.8 C207.58,375.84 208.25,375.87 208.93,375.91 C209.6,375.94 210.27,375.97 210.95,376 C211.62,376.03 212.29,376.06 212.97,376.09 C213.64,376.12 214.32,376.15 214.99,376.17 C215.66,376.2 216.34,376.22 217.01,376.24 C217.68,376.27 218.36,376.29 219.03,376.31 C219.7,376.33 220.38,376.35 221.05,376.37 C221.73,376.39 222.4,376.41 223.07,376.43 C223.75,376.45 224.42,376.46 225.09,376.48 C225.77,376.5 226.44,376.51 227.12,376.53 C227.79,376.55 228.46,376.56 229.14,376.57 C229.81,376.59 230.48,376.6 231.16,376.62 C231.83,376.63 232.51,376.64 233.18,376.66 C233.85,376.67 234.86,376.69 235.2,376.7" fill="none" stroke="#ff00ff" stroke-width="1.7" stroke-linejoin="round" stroke-linecap="round" />
<path d="M53.3,360.75 C53.64,360.69 54.65,360.53 55.32,360.42 C55.99,360.3 56.67,360.18 57.34,360.06 C58.02,359.94 58.69,359.81 59.36,359.68 C60.04,359.55 60.71,359.42 61.38,359.28 C62.06,359.15 62.73,359.01 63.41,358.87 C64.08,358.73 64.75,358.58 65.43,358.44 C66.1,358.3 66.77,358.15 67.45,358 C68.12,357.85 68.8,357.71 69.47,357.56 C70.14,357.41 70.82,357.26 71.49,357.11 C72.16,356.97 72.84,356.82 73.51,356.67 C74.18,356.52 74.86,356.38 75.53,356.23 C76.21,356.09 76.88,355.94 77.55,355.8 C78.23,355.66 78.9,355.52 79.57,355.38 C80.25,355.25 80.92,355.11 81.6,354.98 C82.27,354.85 82.94,354.73 83.62,354.6 C84.29,354.48 84.96,354.36 85.64,354.25 C86.31,354.14 86.99,354.03 87.66,353.93 C88.33,353.83 89.01,353.73 89.68,353.65 C90.35,353.56 91.03,353.48 91.7,353.41 C92.37,353.34 93.05,353.28 93.72,353.23 C94.4,353.18 95.07,353.13 95.74,353.1 C96.42,353.07 97.09,353.05 97.76,353.04 C98.44,353.04 99.11,353.04 99.79,353.05 C100.46,353.07 101.13,353.09 101.81,353.13 C102.48,353.17 103.15,353.21 103.83,353.27 C104.5,353.33 105.18,353.4 105.85,353.47 C106.52,353.55 107.2,353.64 107.87,353.73 C108.54,353.83 109.22,353.93 109.89,354.04 C110.56,354.16 111.24,354.28 111.91,354.41 C112.59,354.53 113.26,354.67 113.93,354.81 C114.61,354.96 115.28,355.11 115.95,355.26 C116.63,355.42 117.3,355.58 117.98,355.75 C118.65,355.92 119.32,356.09 120,356.27 C120.67,356.45 121.34,356.63 122.02,356.82 C122.69,357 123.37,357.2 124.04,357.39 C124.71,357.59 125.39,357.79 126.06,357.99 C126.73,358.19 127.41,358.4 128.08,358.61 C128.75,358.82 129.43,359.03 130.1,359.24 C130.78,359.45 131.45,359.66 132.12,359.88 C132.8,360.09 133.47,360.31 134.14,360.53 C134.82,360.74 135.49,360.96 136.17,361.18 C136.84,361.39 137.51,361.61 138.19,361.82 C138.86,362.04 139.53,362.25 140.21,362.47 C140.88,362.68 141.56,362.89 142.23,363.1 C142.9,363.32 143.58,363.53 144.25,363.74 C144.92,363.95 145.6,364.16 146.27,364.36 C146.94,364.57 147.62,364.78 148.29,364.98 C148.97,365.18 149.64,365.38 150.31,365.59 C150.99,365.79 151.66,365.98 152.33,366.18 C153.01,366.38 153.68,366.57 154.36,366.76 C155.03,366.96 155.7,367.15 156.38,367.34 C157.05,367.52 157.72,367.71 158.4,367.89 C159.07,368.08 159.75,368.26 160.42,368.44 C161.09,368.62 161.77,368.79 162.44,368.97 C163.11,369.14 163.79,369.31 164.46,369.48 C165.13,369.64 165.81,369.81 166.48,369.97 C167.16,370.13 167.83,370.29 168.5,370.45 C169.18,370.6 169.85,370.76 170.52,370.9 C171.2,371.05 171.87,371.2 172.55,371.34 C173.22,371.49 173.89,371.62 174.57,371.76 C175.24,371.89 175.91,372.03 176.59,372.15 C177.26,372.28 177.94,372.41 178.61,372.53 C179.28,372.65 179.96,372.77 180.63,372.88 C181.3,373 181.98,373.11 182.65,373.21 C183.32,373.32 184,373.42 184.67,373.52 C185.35,373.62 186.02,373.72 186.69,373.81 C187.37,373.9 188.04,373.99 188.71,374.08 C189.39,374.16 190.06,374.25 190.74,374.33 C191.41,374.41 192.08,374.48 192.76,374.56 C193.43,374.63 194.1,374.7 194.78,374.77 C195.45,374.84 196.13,374.91 196.8,374.97 C197.47,375.03 198.15,375.09 198.82,375.15 C199.49,375.21 200.17,375.26 200.84,375.32 C201.51,375.37 202.19,375.42 202.86,375.47 C203.54,375.52 204.21,375.57 204.88,375.61 C205.56,375.65 206.23,375.7 206.9,375.74 C207.58,375.78 208.25,375.81 208.93,375.85 C209.6,375.89 210.27,375.92 210.95,375.96 C211.62,375.99 212.29,376.02 212.97,376.05 C213.64,376.08 214.32,376.11 214.99,376.14 C215.66,376.16 216.34,376.19 217.01,376.21 C217.68,376.24 218.36,376.26 219.03,376.29 C219.7,376.31 220.38,376.33 221.05,376.35 C221.73,376.37 222.4,376.39 223.07,376.41 C223.75,376.43 224.42,376.44 225.09,376.46 C225.77,376.48 226.44,376.5 227.12,376.51 C227.79,376.53 228.46,376.54 229.14,376.56 C229.81,376.58 230.48,376.59 231.16,376.61 C231.83,376.62 232.51,376.63 233.18,376.65 C233.85,376.66 234.86,376.69 235.2,376.69" fill="none" stroke="#008000" stroke-width="1.7" stroke-linejoin="round" stroke-linecap="round" />
<path d="M53.3,358.74 C53.64,358.69 54.65,358.53 55.32,358.43 C55.99,358.32 56.67,358.2 57.34,358.08 C58.02,357.97 58.69,357.85 59.36,357.72 C60.04,357.6 60.71,357.47 61.38,357.34 C62.06,357.22 62.73,357.08 63.41,356.95 C64.08,356.82 64.75,356.68 65.43,356.55 C66.1,356.41 66.77,356.27 67.45,356.13 C68.12,355.99 68.8,355.85 69.47,355.71 C70.14,355.58 70.82,355.43 71.49,355.29 C72.16,355.16 72.84,355.02 73.51,354.88 C74.18,354.74 74.86,354.6 75.53,354.47 C76.21,354.33 76.88,354.2 77.55,354.06 C78.23,353.93 78.9,353.8 79.57,353.67 C80.25,353.54 80.92,353.42 81.6,353.3 C82.27,353.17 82.94,353.06 83.62,352.94 C84.29,352.83 84.96,352.72 85.64,352.61 C86.31,352.51 86.99,352.41 87.66,352.32 C88.33,352.22 89.01,352.13 89.68,352.05 C90.35,351.97 91.03,351.9 91.7,351.83 C92.37,351.77 93.05,351.71 93.72,351.67 C94.4,351.62 95.07,351.59 95.74,351.57 C96.42,351.54 97.09,351.53 97.76,351.53 C98.44,351.53 99.11,351.54 99.79,351.56 C100.46,351.58 101.13,351.61 101.81,351.65 C102.48,351.7 103.15,351.75 103.83,351.81 C104.5,351.88 105.18,351.95 105.85,352.04 C106.52,352.12 107.2,352.21 107.87,352.31 C108.54,352.41 109.22,352.53 109.89,352.64 C110.56,352.76 111.24,352.89 111.91,353.02 C112.59,353.16 113.26,353.3 113.93,353.45 C114.61,353.6 115.28,353.76 115.95,353.92 C116.63,354.08 117.3,354.25 117.98,354.43 C118.65,354.6 119.32,354.78 120,354.97 C120.67,355.15 121.34,355.34 122.02,355.54 C122.69,355.73 123.37,355.93 124.04,356.14 C124.71,356.34 125.39,356.55 126.06,356.76 C126.73,356.97 127.41,357.18 128.08,357.4 C128.75,357.61 129.43,357.83 130.1,358.05 C130.78,358.27 131.45,358.49 132.12,358.72 C132.8,358.94 133.47,359.16 134.14,359.39 C134.82,359.61 135.49,359.84 136.17,360.07 C136.84,360.29 137.51,360.52 138.19,360.74 C138.86,360.97 139.53,361.19 140.21,361.41 C140.88,361.64 141.56,361.86 142.23,362.08 C142.9,362.3 143.58,362.52 144.25,362.74 C144.92,362.96 145.6,363.18 146.27,363.4 C146.94,363.61 147.62,363.83 148.29,364.04 C148.97,364.26 149.64,364.47 150.31,364.68 C150.99,364.89 151.66,365.1 152.33,365.31 C153.01,365.51 153.68,365.72 154.36,365.92 C155.03,366.12 155.7,366.32 156.38,366.52 C157.05,366.72 157.72,366.92 158.4,367.11 C159.07,367.3 159.75,367.5 160.42,367.69 C161.09,367.87 161.77,368.06 162.44,368.24 C163.11,368.43 163.79,368.61 164.46,368.78 C165.13,368.96 165.81,369.13 166.48,369.31 C167.16,369.48 167.83,369.65 168.5,369.81 C169.18,369.98 169.85,370.14 170.52,370.3 C171.2,370.45 171.87,370.61 172.55,370.76 C173.22,370.91 173.89,371.06 174.57,371.2 C175.24,371.35 175.91,371.49 176.59,371.63 C177.26,371.76 177.94,371.9 178.61,372.03 C179.28,372.16 179.96,372.28 180.63,372.4 C181.3,372.53 181.98,372.64 182.65,372.76 C183.32,372.87 184,372.98 184.67,373.09 C185.35,373.2 186.02,373.3 186.69,373.4 C187.37,373.5 188.04,373.6 188.71,373.7 C189.39,373.79 190.06,373.88 190.74,373.97 C191.41,374.05 192.08,374.14 192.76,374.22 C193.43,374.3 194.1,374.38 194.78,374.45 C195.45,374.53 196.13,374.6 196.8,374.67 C197.47,374.74 198.15,374.81 198.82,374.87 C199.49,374.94 200.17,375 200.84,375.06 C201.51,375.12 202.19,375.18 202.86,375.23 C203.54,375.28 204.21,375.34 204.88,375.39 C205.56,375.44 206.23,375.48 206.9,375.53 C207.58,375.57 208.25,375.62 208.93,375.66 C209.6,375.7 210.27,375.74 210.95,375.78 C211.62,375.82 212.29,375.85 212.97,375.89 C213.64,375.92 214.32,375.96 214.99,375.99 C215.66,376.02 216.34,376.05 217.01,376.08 C217.68,376.11 218.36,376.13 219.03,376.16 C219.7,376.19 220.38,376.21 221.05,376.24 C221.73,376.26 222.4,376.28 223.07,376.3 C223.75,376.32 224.42,376.35 225.09,376.37 C225.77,376.39 226.44,376.41 227.12,376.43 C227.79,376.45 228.46,376.46 229.14,376.48 C229.81,376.5 230.48,376.52 231.16,376.53 C231.83,376.55 232.51,376.57 233.18,376.58 C233.85,376.6 234.86,376.63 235.2,376.63" fill="none" stroke="#000080" stroke-width="1.7" stroke-linejoin="round" stroke-linecap="round" />
<path d="M53.3,358.14 C53.64,358.07 54.65,357.85 55.32,357.7 C55.99,357.55 56.67,357.39 57.34,357.22 C58.02,357.05 58.69,356.88 59.36,356.71 C60.04,356.53 60.71,356.35 61.38,356.17 C62.06,355.98 62.73,355.79 63.41,355.6 C64.08,355.41 64.75,355.22 65.43,355.02 C66.1,354.83 66.77,354.62 67.45,354.42 C68.12,354.22 68.8,354.02 69.47,353.82 C70.14,353.62 70.82,353.41 71.49,353.21 C72.16,353.01 72.84,352.81 73.51,352.61 C74.18,352.41 74.86,352.21 75.53,352.01 C76.21,351.81 76.88,351.61 77.55,351.42 C78.23,351.22 78.9,351.03 79.57,350.84 C80.25,350.66 80.92,350.47 81.6,350.29 C82.27,350.12 82.94,349.94 83.62,349.78 C84.29,349.61 84.96,349.45 85.64,349.29 C86.31,349.14 86.99,348.99 87.66,348.85 C88.33,348.71 89.01,348.58 89.68,348.46 C90.35,348.34 91.03,348.23 91.7,348.13 C92.37,348.03 93.05,347.94 93.72,347.87 C94.4,347.79 95.07,347.73 95.74,347.68 C96.42,347.64 97.09,347.6 97.76,347.59 C98.44,347.57 99.11,347.56 99.79,347.58 C100.46,347.59 101.13,347.61 101.81,347.65 C102.48,347.69 103.15,347.75 103.83,347.82 C104.5,347.88 105.18,347.96 105.85,348.06 C106.52,348.15 107.2,348.26 107.87,348.37 C108.54,348.49 109.22,348.62 109.89,348.76 C110.56,348.89 111.24,349.04 111.91,349.2 C112.59,349.36 113.26,349.53 113.93,349.71 C114.61,349.89 115.28,350.08 115.95,350.27 C116.63,350.47 117.3,350.67 117.98,350.88 C118.65,351.09 119.32,351.31 120,351.53 C120.67,351.75 121.34,351.98 122.02,352.22 C122.69,352.45 123.37,352.7 124.04,352.94 C124.71,353.19 125.39,353.44 126.06,353.7 C126.73,353.95 127.41,354.21 128.08,354.47 C128.75,354.73 129.43,355 130.1,355.26 C130.78,355.53 131.45,355.8 132.12,356.06 C132.8,356.33 133.47,356.61 134.14,356.88 C134.82,357.15 135.49,357.42 136.17,357.69 C136.84,357.96 137.51,358.23 138.19,358.5 C138.86,358.77 139.53,359.04 140.21,359.31 C140.88,359.57 141.56,359.84 142.23,360.1 C142.9,360.37 143.58,360.63 144.25,360.89 C144.92,361.15 145.6,361.41 146.27,361.67 C146.94,361.93 147.62,362.18 148.29,362.44 C148.97,362.69 149.64,362.94 150.31,363.19 C150.99,363.44 151.66,363.69 152.33,363.93 C153.01,364.17 153.68,364.41 154.36,364.65 C155.03,364.89 155.7,365.13 156.38,365.36 C157.05,365.59 157.72,365.82 158.4,366.05 C159.07,366.28 159.75,366.5 160.42,366.72 C161.09,366.95 161.77,367.16 162.44,367.38 C163.11,367.59 163.79,367.8 164.46,368.01 C165.13,368.21 165.81,368.42 166.48,368.62 C167.16,368.82 167.83,369.01 168.5,369.2 C169.18,369.4 169.85,369.58 170.52,369.77 C171.2,369.95 171.87,370.13 172.55,370.31 C173.22,370.48 173.89,370.65 174.57,370.82 C175.24,370.98 175.91,371.14 176.59,371.3 C177.26,371.46 177.94,371.61 178.61,371.76 C179.28,371.91 179.96,372.05 180.63,372.19 C181.3,372.33 181.98,372.46 182.65,372.59 C183.32,372.72 184,372.84 184.67,372.96 C185.35,373.08 186.02,373.2 186.69,373.31 C187.37,373.42 188.04,373.53 188.71,373.63 C189.39,373.74 190.06,373.84 190.74,373.93 C191.41,374.03 192.08,374.12 192.76,374.21 C193.43,374.3 194.1,374.38 194.78,374.46 C195.45,374.54 196.13,374.62 196.8,374.69 C197.47,374.77 198.15,374.84 198.82,374.91 C199.49,374.98 200.17,375.04 200.84,375.1 C201.51,375.17 202.19,375.23 202.86,375.28 C203.54,375.34 204.21,375.39 204.88,375.45 C205.56,375.5 206.23,375.54 206.9,375.59 C207.58,375.64 208.25,375.68 208.93,375.72 C209.6,375.76 210.27,375.8 210.95,375.84 C211.62,375.88 212.29,375.92 212.97,375.95 C213.64,375.98 214.32,376.02 214.99,376.05 C215.66,376.08 216.34,376.11 217.01,376.13 C217.68,376.16 218.36,376.19 219.03,376.21 C219.7,376.24 220.38,376.26 221.05,376.28 C221.73,376.31 222.4,376.33 223.07,376.35 C223.75,376.37 224.42,376.39 225.09,376.41 C225.77,376.43 226.44,376.45 227.12,376.46 C227.79,376.48 228.46,376.5 229.14,376.52 C229.81,376.53 230.48,376.55 231.16,376.57 C231.83,376.59 232.51,376.6 233.18,376.62 C233.85,376.63 234.86,376.66 235.2,376.67" fill="none" stroke="#c0c0c0" stroke-width="1.7" stroke-linejoin="round" stroke-linecap="round" />
<path d="M53.3,357.75 C53.64,357.66 54.65,357.39 55.32,357.2 C55.99,357.01 56.67,356.81 57.34,356.6 C58.02,356.39 58.69,356.17 59.36,355.95 C60.04,355.73 60.71,355.5 61.38,355.27 C62.06,355.03 62.73,354.8 63.41,354.55 C64.08,354.31 64.75,354.06 65.43,353.82 C66.1,353.57 66.77,353.31 67.45,353.06 C68.12,352.8 68.8,352.55 69.47,352.29 C70.14,352.03 70.82,351.77 71.49,351.51 C72.16,351.26 72.84,351 73.51,350.74 C74.18,350.48 74.86,350.23 75.53,349.98 C76.21,349.72 76.88,349.47 77.55,349.22 C78.23,348.97 78.9,348.73 79.57,348.49 C80.25,348.25 80.92,348.01 81.6,347.78 C82.27,347.55 82.94,347.33 83.62,347.12 C84.29,346.9 84.96,346.69 85.64,346.49 C86.31,346.3 86.99,346.11 87.66,345.93 C88.33,345.75 89.01,345.58 89.68,345.42 C90.35,345.27 91.03,345.12 91.7,344.99 C92.37,344.86 93.05,344.75 93.72,344.65 C94.4,344.55 95.07,344.46 95.74,344.39 C96.42,344.32 97.09,344.27 97.76,344.24 C98.44,344.21 99.11,344.19 99.79,344.19 C100.46,344.2 101.13,344.22 101.81,344.25 C102.48,344.29 103.15,344.35 103.83,344.42 C104.5,344.49 105.18,344.57 105.85,344.67 C106.52,344.77 107.2,344.89 107.87,345.02 C108.54,345.15 109.22,345.29 109.89,345.45 C110.56,345.6 111.24,345.77 111.91,345.95 C112.59,346.13 113.26,346.33 113.93,346.53 C114.61,346.73 115.28,346.95 115.95,347.17 C116.63,347.39 117.3,347.62 117.98,347.86 C118.65,348.1 119.32,348.36 120,348.61 C120.67,348.87 121.34,349.13 122.02,349.4 C122.69,349.67 123.37,349.95 124.04,350.23 C124.71,350.52 125.39,350.81 126.06,351.1 C126.73,351.39 127.41,351.69 128.08,351.99 C128.75,352.29 129.43,352.6 130.1,352.9 C130.78,353.21 131.45,353.51 132.12,353.82 C132.8,354.13 133.47,354.44 134.14,354.76 C134.82,355.07 135.49,355.38 136.17,355.69 C136.84,356 137.51,356.31 138.19,356.62 C138.86,356.92 139.53,357.23 140.21,357.53 C140.88,357.84 141.56,358.14 142.23,358.44 C142.9,358.74 143.58,359.04 144.25,359.34 C144.92,359.64 145.6,359.93 146.27,360.22 C146.94,360.51 147.62,360.8 148.29,361.09 C148.97,361.38 149.64,361.66 150.31,361.94 C150.99,362.23 151.66,362.51 152.33,362.78 C153.01,363.06 153.68,363.33 154.36,363.6 C155.03,363.87 155.7,364.13 156.38,364.4 C157.05,364.66 157.72,364.92 158.4,365.18 C159.07,365.43 159.75,365.69 160.42,365.93 C161.09,366.18 161.77,366.43 162.44,366.67 C163.11,366.91 163.79,367.14 164.46,367.38 C165.13,367.61 165.81,367.84 166.48,368.06 C167.16,368.28 167.83,368.5 168.5,368.72 C169.18,368.93 169.85,369.14 170.52,369.35 C171.2,369.55 171.87,369.75 172.55,369.95 C173.22,370.14 173.89,370.33 174.57,370.51 C175.24,370.7 175.91,370.88 176.59,371.05 C177.26,371.23 177.94,371.39 178.61,371.56 C179.28,371.72 179.96,371.88 180.63,372.03 C181.3,372.18 181.98,372.33 182.65,372.47 C183.32,372.61 184,372.74 184.67,372.88 C185.35,373.01 186.02,373.13 186.69,373.25 C187.37,373.38 188.04,373.49 188.71,373.6 C189.39,373.71 190.06,373.82 190.74,373.92 C191.41,374.03 192.08,374.12 192.76,374.22 C193.43,374.31 194.1,374.4 194.78,374.49 C195.45,374.57 196.13,374.66 196.8,374.73 C197.47,374.81 198.15,374.89 198.82,374.96 C199.49,375.03 200.17,375.1 200.84,375.16 C201.51,375.23 202.19,375.29 202.86,375.35 C203.54,375.41 204.21,375.46 204.88,375.51 C205.56,375.56 206.23,375.61 206.9,375.66 C207.58,375.7 208.25,375.75 208.93,375.79 C209.6,375.83 210.27,375.87 210.95,375.91 C211.62,375.95 212.29,375.98 212.97,376.01 C213.64,376.05 214.32,376.08 214.99,376.11 C215.66,376.14 216.34,376.17 217.01,376.19 C217.68,376.22 218.36,376.24 219.03,376.27 C219.7,376.29 220.38,376.31 221.05,376.34 C221.73,376.36 222.4,376.37 223.07,376.39 C223.75,376.41 224.42,376.43 225.09,376.45 C225.77,376.47 226.44,376.49 227.12,376.5 C227.79,376.52 228.46,376.54 229.14,376.55 C229.81,376.57 230.48,376.59 231.16,376.6 C231.83,376.62 232.51,376.63 233.18,376.65 C233.85,376.67 234.86,376.7 235.2,376.7" fill="none" stroke="#ff0080" stroke-width="1.7" stroke-linejoin="round" stroke-linecap="round" />
<path d="M53.3,357.39 C53.64,357.29 54.65,357 55.32,356.79 C55.99,356.58 56.67,356.36 57.34,356.13 C58.02,355.91 58.69,355.67 59.36,355.43 C60.04,355.18 60.71,354.93 61.38,354.68 C62.06,354.43 62.73,354.17 63.41,353.9 C64.08,353.64 64.75,353.37 65.43,353.09 C66.1,352.82 66.77,352.54 67.45,352.26 C68.12,351.99 68.8,351.71 69.47,351.42 C70.14,351.14 70.82,350.86 71.49,350.57 C72.16,350.29 72.84,350.01 73.51,349.73 C74.18,349.45 74.86,349.17 75.53,348.89 C76.21,348.61 76.88,348.34 77.55,348.06 C78.23,347.79 78.9,347.52 79.57,347.26 C80.25,347 80.92,346.74 81.6,346.49 C82.27,346.24 82.94,345.99 83.62,345.76 C84.29,345.52 84.96,345.29 85.64,345.07 C86.31,344.86 86.99,344.65 87.66,344.45 C88.33,344.26 89.01,344.07 89.68,343.9 C90.35,343.73 91.03,343.57 91.7,343.42 C92.37,343.28 93.05,343.15 93.72,343.04 C94.4,342.93 95.07,342.83 95.74,342.75 C96.42,342.68 97.09,342.62 97.76,342.58 C98.44,342.54 99.11,342.52 99.79,342.52 C100.46,342.52 101.13,342.54 101.81,342.57 C102.48,342.61 103.15,342.66 103.83,342.74 C104.5,342.81 105.18,342.9 105.85,343 C106.52,343.11 107.2,343.23 107.87,343.36 C108.54,343.5 109.22,343.65 109.89,343.81 C110.56,343.98 111.24,344.16 111.91,344.35 C112.59,344.54 113.26,344.74 113.93,344.96 C114.61,345.17 115.28,345.4 115.95,345.63 C116.63,345.87 117.3,346.11 117.98,346.37 C118.65,346.63 119.32,346.89 120,347.16 C120.67,347.44 121.34,347.72 122.02,348 C122.69,348.29 123.37,348.59 124.04,348.89 C124.71,349.19 125.39,349.5 126.06,349.81 C126.73,350.12 127.41,350.43 128.08,350.75 C128.75,351.07 129.43,351.39 130.1,351.72 C130.78,352.04 131.45,352.37 132.12,352.7 C132.8,353.02 133.47,353.36 134.14,353.69 C134.82,354.02 135.49,354.35 136.17,354.68 C136.84,355 137.51,355.33 138.19,355.66 C138.86,355.98 139.53,356.31 140.21,356.63 C140.88,356.95 141.56,357.27 142.23,357.59 C142.9,357.91 143.58,358.23 144.25,358.54 C144.92,358.86 145.6,359.17 146.27,359.48 C146.94,359.78 147.62,360.09 148.29,360.39 C148.97,360.7 149.64,361 150.31,361.3 C150.99,361.59 151.66,361.89 152.33,362.18 C153.01,362.47 153.68,362.76 154.36,363.04 C155.03,363.33 155.7,363.61 156.38,363.89 C157.05,364.16 157.72,364.44 158.4,364.71 C159.07,364.98 159.75,365.24 160.42,365.51 C161.09,365.77 161.77,366.03 162.44,366.28 C163.11,366.53 163.79,366.78 164.46,367.03 C165.13,367.27 165.81,367.51 166.48,367.75 C167.16,367.98 167.83,368.21 168.5,368.44 C169.18,368.66 169.85,368.88 170.52,369.1 C171.2,369.31 171.87,369.53 172.55,369.73 C173.22,369.93 173.89,370.13 174.57,370.33 C175.24,370.52 175.91,370.71 176.59,370.89 C177.26,371.07 177.94,371.25 178.61,371.42 C179.28,371.59 179.96,371.76 180.63,371.92 C181.3,372.07 181.98,372.23 182.65,372.37 C183.32,372.52 184,372.66 184.67,372.8 C185.35,372.93 186.02,373.07 186.69,373.19 C187.37,373.32 188.04,373.44 188.71,373.56 C189.39,373.67 190.06,373.78 190.74,373.89 C191.41,373.99 192.08,374.1 192.76,374.19 C193.43,374.29 194.1,374.38 194.78,374.47 C195.45,374.56 196.13,374.64 196.8,374.73 C197.47,374.81 198.15,374.88 198.82,374.96 C199.49,375.03 200.17,375.1 200.84,375.17 C201.51,375.23 202.19,375.29 202.86,375.35 C203.54,375.41 204.21,375.47 204.88,375.52 C205.56,375.58 206.23,375.62 206.9,375.67 C207.58,375.72 208.25,375.76 208.93,375.8 C209.6,375.85 210.27,375.89 210.95,375.92 C211.62,375.96 212.29,376 212.97,376.03 C213.64,376.06 214.32,376.1 214.99,376.13 C215.66,376.15 216.34,376.18 217.01,376.21 C217.68,376.23 218.36,376.26 219.03,376.28 C219.7,376.3 220.38,376.33 221.05,376.35 C221.73,376.37 222.4,376.39 223.07,376.4 C223.75,376.42 224.42,376.44 225.09,376.46 C225.77,376.48 226.44,376.5 227.12,376.51 C227.79,376.53 228.46,376.55 229.14,376.56 C229.81,376.58 230.48,376.6 231.16,376.61 C231.83,376.63 232.51,376.64 233.18,376.66 C233.85,376.68 234.86,376.71 235.2,376.71" fill="none" stroke="#8000ff" stroke-width="1.7" stroke-linejoin="round" stroke-linecap="round" />
<path d="M53.3,356.47 C53.64,356.36 54.65,356.05 55.32,355.83 C55.99,355.61 56.67,355.38 57.34,355.14 C58.02,354.9 58.69,354.65 59.36,354.39 C60.04,354.14 60.71,353.87 61.38,353.61 C62.06,353.34 62.73,353.06 63.41,352.79 C64.08,352.51 64.75,352.22 65.43,351.93 C66.1,351.65 66.77,351.35 67.45,351.06 C68.12,350.77 68.8,350.47 69.47,350.17 C70.14,349.88 70.82,349.58 71.49,349.28 C72.16,348.98 72.84,348.68 73.51,348.39 C74.18,348.09 74.86,347.79 75.53,347.5 C76.21,347.21 76.88,346.92 77.55,346.63 C78.23,346.34 78.9,346.06 79.57,345.78 C80.25,345.5 80.92,345.23 81.6,344.97 C82.27,344.7 82.94,344.45 83.62,344.2 C84.29,343.95 84.96,343.71 85.64,343.48 C86.31,343.25 86.99,343.03 87.66,342.82 C88.33,342.62 89.01,342.42 89.68,342.24 C90.35,342.06 91.03,341.89 91.7,341.74 C92.37,341.59 93.05,341.45 93.72,341.33 C94.4,341.22 95.07,341.11 95.74,341.03 C96.42,340.95 97.09,340.89 97.76,340.85 C98.44,340.8 99.11,340.78 99.79,340.78 C100.46,340.78 101.13,340.8 101.81,340.84 C102.48,340.88 103.15,340.93 103.83,341.01 C104.5,341.08 105.18,341.18 105.85,341.29 C106.52,341.4 107.2,341.53 107.87,341.67 C108.54,341.81 109.22,341.97 109.89,342.14 C110.56,342.31 111.24,342.5 111.91,342.7 C112.59,342.9 113.26,343.12 113.93,343.34 C114.61,343.57 115.28,343.8 115.95,344.05 C116.63,344.3 117.3,344.56 117.98,344.83 C118.65,345.1 119.32,345.38 120,345.66 C120.67,345.95 121.34,346.24 122.02,346.54 C122.69,346.85 123.37,347.16 124.04,347.47 C124.71,347.79 125.39,348.11 126.06,348.44 C126.73,348.77 127.41,349.1 128.08,349.43 C128.75,349.77 129.43,350.11 130.1,350.45 C130.78,350.79 131.45,351.13 132.12,351.48 C132.8,351.82 133.47,352.17 134.14,352.52 C134.82,352.87 135.49,353.21 136.17,353.56 C136.84,353.9 137.51,354.25 138.19,354.59 C138.86,354.93 139.53,355.27 140.21,355.61 C140.88,355.95 141.56,356.29 142.23,356.62 C142.9,356.96 143.58,357.29 144.25,357.62 C144.92,357.95 145.6,358.28 146.27,358.6 C146.94,358.93 147.62,359.25 148.29,359.57 C148.97,359.89 149.64,360.2 150.31,360.52 C150.99,360.83 151.66,361.14 152.33,361.45 C153.01,361.75 153.68,362.05 154.36,362.35 C155.03,362.65 155.7,362.95 156.38,363.24 C157.05,363.53 157.72,363.82 158.4,364.1 C159.07,364.38 159.75,364.67 160.42,364.94 C161.09,365.22 161.77,365.49 162.44,365.75 C163.11,366.02 163.79,366.28 164.46,366.54 C165.13,366.79 165.81,367.05 166.48,367.29 C167.16,367.54 167.83,367.78 168.5,368.02 C169.18,368.26 169.85,368.49 170.52,368.71 C171.2,368.94 171.87,369.16 172.55,369.38 C173.22,369.59 173.89,369.8 174.57,370 C175.24,370.21 175.91,370.4 176.59,370.6 C177.26,370.79 177.94,370.97 178.61,371.15 C179.28,371.33 179.96,371.51 180.63,371.67 C181.3,371.84 181.98,372 182.65,372.15 C183.32,372.31 184,372.46 184.67,372.6 C185.35,372.74 186.02,372.88 186.69,373.01 C187.37,373.14 188.04,373.27 188.71,373.39 C189.39,373.52 190.06,373.63 190.74,373.74 C191.41,373.85 192.08,373.96 192.76,374.06 C193.43,374.16 194.1,374.26 194.78,374.35 C195.45,374.45 196.13,374.54 196.8,374.62 C197.47,374.71 198.15,374.79 198.82,374.86 C199.49,374.94 200.17,375.01 200.84,375.08 C201.51,375.15 202.19,375.22 202.86,375.28 C203.54,375.34 204.21,375.4 204.88,375.46 C205.56,375.51 206.23,375.56 206.9,375.61 C207.58,375.66 208.25,375.71 208.93,375.75 C209.6,375.8 210.27,375.84 210.95,375.88 C211.62,375.92 212.29,375.95 212.97,375.99 C213.64,376.02 214.32,376.06 214.99,376.09 C215.66,376.12 216.34,376.14 217.01,376.17 C217.68,376.2 218.36,376.23 219.03,376.25 C219.7,376.27 220.38,376.3 221.05,376.32 C221.73,376.34 222.4,376.36 223.07,376.38 C223.75,376.4 224.42,376.42 225.09,376.44 C225.77,376.46 226.44,376.47 227.12,376.49 C227.79,376.51 228.46,376.53 229.14,376.54 C229.81,376.56 230.48,376.58 231.16,376.6 C231.83,376.61 232.51,376.63 233.18,376.65 C233.85,376.66 234.86,376.69 235.2,376.7" fill="none" stroke="#ff8000" stroke-width="1.7" stroke-linejoin="round" stroke-linecap="round" />
<path d="M53.3,354.97 C53.64,354.84 54.65,354.48 55.32,354.22 C55.99,353.96 56.67,353.68 57.34,353.4 C58.02,353.11 58.69,352.81 59.36,352.51 C60.04,352.21 60.71,351.9 61.38,351.58 C62.06,351.26 62.73,350.93 63.41,350.6 C64.08,350.27 64.75,349.93 65.43,349.59 C66.1,349.25 66.77,348.9 67.45,348.55 C68.12,348.2 68.8,347.85 69.47,347.49 C70.14,347.14 70.82,346.78 71.49,346.43 C72.16,346.07 72.84,345.72 73.51,345.36 C74.18,345.01 74.86,344.66 75.53,344.31 C76.21,343.96 76.88,343.61 77.55,343.27 C78.23,342.93 78.9,342.59 79.57,342.26 C80.25,341.93 80.92,341.6 81.6,341.28 C82.27,340.97 82.94,340.66 83.62,340.37 C84.29,340.07 84.96,339.78 85.64,339.5 C86.31,339.23 86.99,338.97 87.66,338.72 C88.33,338.47 89.01,338.24 89.68,338.02 C90.35,337.81 91.03,337.6 91.7,337.42 C92.37,337.24 93.05,337.08 93.72,336.93 C94.4,336.79 95.07,336.66 95.74,336.56 C96.42,336.46 97.09,336.38 97.76,336.33 C98.44,336.27 99.11,336.24 99.79,336.23 C100.46,336.22 101.13,336.24 101.81,336.28 C102.48,336.32 103.15,336.38 103.83,336.46 C104.5,336.54 105.18,336.65 105.85,336.77 C106.52,336.89 107.2,337.03 107.87,337.19 C108.54,337.35 109.22,337.53 109.89,337.73 C110.56,337.92 111.24,338.13 111.91,338.36 C112.59,338.59 113.26,338.83 113.93,339.09 C114.61,339.34 115.28,339.61 115.95,339.9 C116.63,340.18 117.3,340.47 117.98,340.78 C118.65,341.08 119.32,341.41 120,341.73 C120.67,342.06 121.34,342.39 122.02,342.74 C122.69,343.08 123.37,343.44 124.04,343.8 C124.71,344.16 125.39,344.53 126.06,344.9 C126.73,345.28 127.41,345.65 128.08,346.04 C128.75,346.42 129.43,346.81 130.1,347.2 C130.78,347.59 131.45,347.98 132.12,348.37 C132.8,348.77 133.47,349.16 134.14,349.56 C134.82,349.96 135.49,350.35 136.17,350.75 C136.84,351.14 137.51,351.53 138.19,351.92 C138.86,352.31 139.53,352.7 140.21,353.08 C140.88,353.47 141.56,353.85 142.23,354.23 C142.9,354.61 143.58,354.99 144.25,355.37 C144.92,355.75 145.6,356.12 146.27,356.49 C146.94,356.85 147.62,357.22 148.29,357.58 C148.97,357.94 149.64,358.3 150.31,358.65 C150.99,359.01 151.66,359.36 152.33,359.71 C153.01,360.05 153.68,360.39 154.36,360.73 C155.03,361.07 155.7,361.41 156.38,361.74 C157.05,362.07 157.72,362.39 158.4,362.71 C159.07,363.03 159.75,363.35 160.42,363.66 C161.09,363.98 161.77,364.28 162.44,364.58 C163.11,364.88 163.79,365.18 164.46,365.47 C165.13,365.76 165.81,366.04 166.48,366.32 C167.16,366.6 167.83,366.87 168.5,367.14 C169.18,367.41 169.85,367.67 170.52,367.92 C171.2,368.18 171.87,368.43 172.55,368.67 C173.22,368.91 173.89,369.15 174.57,369.37 C175.24,369.6 175.91,369.82 176.59,370.04 C177.26,370.25 177.94,370.46 178.61,370.66 C179.28,370.86 179.96,371.06 180.63,371.24 C181.3,371.43 181.98,371.61 182.65,371.78 C183.32,371.95 184,372.12 184.67,372.28 C185.35,372.44 186.02,372.59 186.69,372.74 C187.37,372.88 188.04,373.02 188.71,373.16 C189.39,373.29 190.06,373.42 190.74,373.54 C191.41,373.67 192.08,373.78 192.76,373.9 C193.43,374.01 194.1,374.11 194.78,374.22 C195.45,374.32 196.13,374.42 196.8,374.51 C197.47,374.6 198.15,374.69 198.82,374.77 C199.49,374.85 200.17,374.93 200.84,375.01 C201.51,375.08 202.19,375.16 202.86,375.22 C203.54,375.29 204.21,375.35 204.88,375.41 C205.56,375.47 206.23,375.52 206.9,375.58 C207.58,375.63 208.25,375.68 208.93,375.72 C209.6,375.77 210.27,375.82 210.95,375.86 C211.62,375.9 212.29,375.94 212.97,375.97 C213.64,376.01 214.32,376.05 214.99,376.08 C215.66,376.11 216.34,376.14 217.01,376.16 C217.68,376.19 218.36,376.22 219.03,376.24 C219.7,376.27 220.38,376.29 221.05,376.32 C221.73,376.34 222.4,376.35 223.07,376.37 C223.75,376.39 224.42,376.42 225.09,376.43 C225.77,376.45 226.44,376.47 227.12,376.49 C227.79,376.51 228.46,376.52 229.14,376.54 C229.81,376.56 230.48,376.58 231.16,376.6 C231.83,376.62 232.51,376.63 233.18,376.65 C233.85,376.67 234.86,376.7 235.2,376.71" fill="none" stroke="#0000a0" stroke-width="1.7" stroke-linejoin="round" stroke-linecap="round" />
<path d="M53.3,354.16 C53.64,354.02 54.65,353.59 55.32,353.29 C55.99,352.98 56.67,352.66 57.34,352.33 C58.02,352 58.69,351.66 59.36,351.31 C60.04,350.95 60.71,350.59 61.38,350.22 C62.06,349.85 62.73,349.47 63.41,349.08 C64.08,348.7 64.75,348.3 65.43,347.9 C66.1,347.5 66.77,347.09 67.45,346.69 C68.12,346.28 68.8,345.87 69.47,345.45 C70.14,345.04 70.82,344.62 71.49,344.21 C72.16,343.79 72.84,343.38 73.51,342.97 C74.18,342.55 74.86,342.14 75.53,341.73 C76.21,341.33 76.88,340.92 77.55,340.52 C78.23,340.12 78.9,339.72 79.57,339.33 C80.25,338.95 80.92,338.57 81.6,338.2 C82.27,337.83 82.94,337.47 83.62,337.12 C84.29,336.77 84.96,336.43 85.64,336.11 C86.31,335.79 86.99,335.49 87.66,335.2 C88.33,334.91 89.01,334.63 89.68,334.38 C90.35,334.12 91.03,333.88 91.7,333.67 C92.37,333.45 93.05,333.26 93.72,333.09 C94.4,332.92 95.07,332.76 95.74,332.64 C96.42,332.52 97.09,332.42 97.76,332.35 C98.44,332.28 99.11,332.24 99.79,332.22 C100.46,332.2 101.13,332.22 101.81,332.25 C102.48,332.29 103.15,332.35 103.83,332.44 C104.5,332.52 105.18,332.64 105.85,332.77 C106.52,332.9 107.2,333.05 107.87,333.23 C108.54,333.4 109.22,333.6 109.89,333.82 C110.56,334.03 111.24,334.26 111.91,334.51 C112.59,334.77 113.26,335.04 113.93,335.32 C114.61,335.61 115.28,335.91 115.95,336.22 C116.63,336.54 117.3,336.86 117.98,337.21 C118.65,337.55 119.32,337.9 120,338.27 C120.67,338.63 121.34,339.01 122.02,339.39 C122.69,339.78 123.37,340.17 124.04,340.58 C124.71,340.98 125.39,341.39 126.06,341.81 C126.73,342.23 127.41,342.65 128.08,343.07 C128.75,343.5 129.43,343.94 130.1,344.37 C130.78,344.81 131.45,345.24 132.12,345.68 C132.8,346.12 133.47,346.57 134.14,347.01 C134.82,347.45 135.49,347.89 136.17,348.33 C136.84,348.77 137.51,349.21 138.19,349.64 C138.86,350.07 139.53,350.5 140.21,350.93 C140.88,351.36 141.56,351.79 142.23,352.21 C142.9,352.63 143.58,353.05 144.25,353.47 C144.92,353.89 145.6,354.3 146.27,354.71 C146.94,355.12 147.62,355.52 148.29,355.92 C148.97,356.32 149.64,356.72 150.31,357.11 C150.99,357.5 151.66,357.9 152.33,358.28 C153.01,358.66 153.68,359.04 154.36,359.41 C155.03,359.79 155.7,360.16 156.38,360.52 C157.05,360.89 157.72,361.25 158.4,361.6 C159.07,361.96 159.75,362.31 160.42,362.65 C161.09,363 161.77,363.33 162.44,363.66 C163.11,364 163.79,364.32 164.46,364.64 C165.13,364.96 165.81,365.27 166.48,365.58 C167.16,365.89 167.83,366.19 168.5,366.48 C169.18,366.78 169.85,367.06 170.52,367.34 C171.2,367.62 171.87,367.9 172.55,368.16 C173.22,368.43 173.89,368.69 174.57,368.94 C175.24,369.19 175.91,369.43 176.59,369.66 C177.26,369.9 177.94,370.13 178.61,370.35 C179.28,370.56 179.96,370.78 180.63,370.98 C181.3,371.18 181.98,371.38 182.65,371.56 C183.32,371.75 184,371.93 184.67,372.1 C185.35,372.27 186.02,372.44 186.69,372.6 C187.37,372.76 188.04,372.91 188.71,373.05 C189.39,373.2 190.06,373.34 190.74,373.47 C191.41,373.6 192.08,373.73 192.76,373.85 C193.43,373.96 194.1,374.08 194.78,374.19 C195.45,374.29 196.13,374.4 196.8,374.5 C197.47,374.59 198.15,374.68 198.82,374.77 C199.49,374.86 200.17,374.94 200.84,375.02 C201.51,375.1 202.19,375.18 202.86,375.25 C203.54,375.32 204.21,375.38 204.88,375.44 C205.56,375.5 206.23,375.56 206.9,375.61 C207.58,375.67 208.25,375.72 208.93,375.76 C209.6,375.81 210.27,375.86 210.95,375.9 C211.62,375.94 212.29,375.98 212.97,376.01 C213.64,376.05 214.32,376.09 214.99,376.12 C215.66,376.15 216.34,376.18 217.01,376.2 C217.68,376.23 218.36,376.26 219.03,376.28 C219.7,376.31 220.38,376.33 221.05,376.35 C221.73,376.37 222.4,376.39 223.07,376.41 C223.75,376.42 224.42,376.44 225.09,376.46 C225.77,376.48 226.44,376.5 227.12,376.52 C227.79,376.53 228.46,376.55 229.14,376.57 C229.81,376.58 230.48,376.6 231.16,376.62 C231.83,376.64 232.51,376.65 233.18,376.67 C233.85,376.69 234.86,376.73 235.2,376.74" fill="none" stroke="#008080" stroke-width="1.7" stroke-linejoin="round" stroke-linecap="round" />
<path d="M53.3,347.67 C53.64,347.49 54.65,346.97 55.32,346.59 C55.99,346.22 56.67,345.82 57.34,345.42 C58.02,345.01 58.69,344.58 59.36,344.15 C60.04,343.72 60.71,343.27 61.38,342.81 C62.06,342.36 62.73,341.89 63.41,341.41 C64.08,340.94 64.75,340.45 65.43,339.96 C66.1,339.47 66.77,338.97 67.45,338.47 C68.12,337.97 68.8,337.46 69.47,336.95 C70.14,336.45 70.82,335.93 71.49,335.42 C72.16,334.91 72.84,334.4 73.51,333.9 C74.18,333.39 74.86,332.88 75.53,332.38 C76.21,331.88 76.88,331.38 77.55,330.89 C78.23,330.4 78.9,329.91 79.57,329.43 C80.25,328.96 80.92,328.49 81.6,328.04 C82.27,327.58 82.94,327.14 83.62,326.72 C84.29,326.29 84.96,325.87 85.64,325.48 C86.31,325.08 86.99,324.71 87.66,324.35 C88.33,324 89.01,323.66 89.68,323.35 C90.35,323.03 91.03,322.74 91.7,322.48 C92.37,322.22 93.05,321.98 93.72,321.77 C94.4,321.56 95.07,321.38 95.74,321.23 C96.42,321.08 97.09,320.96 97.76,320.88 C98.44,320.79 99.11,320.74 99.79,320.73 C100.46,320.71 101.13,320.73 101.81,320.78 C102.48,320.83 103.15,320.91 103.83,321.01 C104.5,321.12 105.18,321.27 105.85,321.43 C106.52,321.6 107.2,321.79 107.87,322.01 C108.54,322.23 109.22,322.48 109.89,322.75 C110.56,323.02 111.24,323.31 111.91,323.63 C112.59,323.94 113.26,324.28 113.93,324.64 C114.61,325 115.28,325.37 115.95,325.77 C116.63,326.16 117.3,326.57 117.98,327 C118.65,327.42 119.32,327.87 120,328.32 C120.67,328.78 121.34,329.25 122.02,329.73 C122.69,330.21 123.37,330.7 124.04,331.21 C124.71,331.71 125.39,332.23 126.06,332.75 C126.73,333.27 127.41,333.79 128.08,334.33 C128.75,334.86 129.43,335.41 130.1,335.95 C130.78,336.49 131.45,337.04 132.12,337.59 C132.8,338.13 133.47,338.69 134.14,339.24 C134.82,339.79 135.49,340.34 136.17,340.89 C136.84,341.44 137.51,341.99 138.19,342.53 C138.86,343.07 139.53,343.61 140.21,344.15 C140.88,344.68 141.56,345.22 142.23,345.74 C142.9,346.27 143.58,346.8 144.25,347.32 C144.92,347.85 145.6,348.36 146.27,348.87 C146.94,349.39 147.62,349.89 148.29,350.39 C148.97,350.9 149.64,351.39 150.31,351.88 C150.99,352.38 151.66,352.87 152.33,353.35 C153.01,353.83 153.68,354.3 154.36,354.77 C155.03,355.24 155.7,355.7 156.38,356.16 C157.05,356.62 157.72,357.07 158.4,357.51 C159.07,357.96 159.75,358.4 160.42,358.83 C161.09,359.26 161.77,359.68 162.44,360.1 C163.11,360.52 163.79,360.92 164.46,361.33 C165.13,361.73 165.81,362.12 166.48,362.5 C167.16,362.89 167.83,363.27 168.5,363.64 C169.18,364.01 169.85,364.37 170.52,364.72 C171.2,365.07 171.87,365.42 172.55,365.75 C173.22,366.08 173.89,366.41 174.57,366.72 C175.24,367.04 175.91,367.34 176.59,367.64 C177.26,367.93 177.94,368.22 178.61,368.49 C179.28,368.77 179.96,369.04 180.63,369.29 C181.3,369.55 181.98,369.79 182.65,370.03 C183.32,370.27 184,370.49 184.67,370.71 C185.35,370.93 186.02,371.14 186.69,371.34 C187.37,371.54 188.04,371.73 188.71,371.91 C189.39,372.1 190.06,372.27 190.74,372.44 C191.41,372.61 192.08,372.76 192.76,372.92 C193.43,373.07 194.1,373.21 194.78,373.35 C195.45,373.49 196.13,373.62 196.8,373.74 C197.47,373.87 198.15,373.99 198.82,374.1 C199.49,374.21 200.17,374.32 200.84,374.42 C201.51,374.52 202.19,374.61 202.86,374.7 C203.54,374.79 204.21,374.88 204.88,374.96 C205.56,375.03 206.23,375.11 206.9,375.17 C207.58,375.24 208.25,375.31 208.93,375.37 C209.6,375.43 210.27,375.49 210.95,375.54 C211.62,375.6 212.29,375.65 212.97,375.69 C213.64,375.74 214.32,375.79 214.99,375.83 C215.66,375.87 216.34,375.91 217.01,375.94 C217.68,375.98 218.36,376.01 219.03,376.04 C219.7,376.08 220.38,376.11 221.05,376.14 C221.73,376.16 222.4,376.19 223.07,376.21 C223.75,376.24 224.42,376.26 225.09,376.29 C225.77,376.31 226.44,376.33 227.12,376.36 C227.79,376.38 228.46,376.4 229.14,376.42 C229.81,376.45 230.48,376.47 231.16,376.5 C231.83,376.52 232.51,376.54 233.18,376.56 C233.85,376.59 234.86,376.63 235.2,376.64" fill="none" stroke="#008000" stroke-width="1.7" stroke-linejoin="round" stroke-linecap="round" />
<path d="M53.3,343.47 C53.64,343.3 54.65,342.8 55.32,342.44 C55.99,342.07 56.67,341.69 57.34,341.3 C58.02,340.91 58.69,340.5 59.36,340.08 C60.04,339.67 60.71,339.24 61.38,338.8 C62.06,338.36 62.73,337.91 63.41,337.46 C64.08,337 64.75,336.53 65.43,336.06 C66.1,335.59 66.77,335.11 67.45,334.63 C68.12,334.15 68.8,333.67 69.47,333.18 C70.14,332.7 70.82,332.21 71.49,331.72 C72.16,331.23 72.84,330.75 73.51,330.26 C74.18,329.78 74.86,329.29 75.53,328.82 C76.21,328.34 76.88,327.86 77.55,327.39 C78.23,326.92 78.9,326.46 79.57,326 C80.25,325.55 80.92,325.1 81.6,324.67 C82.27,324.24 82.94,323.82 83.62,323.41 C84.29,323.01 84.96,322.61 85.64,322.24 C86.31,321.86 86.99,321.5 87.66,321.16 C88.33,320.83 89.01,320.5 89.68,320.21 C90.35,319.91 91.03,319.64 91.7,319.39 C92.37,319.14 93.05,318.92 93.72,318.73 C94.4,318.53 95.07,318.37 95.74,318.23 C96.42,318.1 97.09,318 97.76,317.93 C98.44,317.86 99.11,317.82 99.79,317.82 C100.46,317.82 101.13,317.85 101.81,317.92 C102.48,317.98 103.15,318.07 103.83,318.19 C104.5,318.32 105.18,318.47 105.85,318.65 C106.52,318.83 107.2,319.04 107.87,319.27 C108.54,319.5 109.22,319.76 109.89,320.04 C110.56,320.33 111.24,320.63 111.91,320.96 C112.59,321.28 113.26,321.64 113.93,322 C114.61,322.37 115.28,322.76 115.95,323.17 C116.63,323.57 117.3,324 117.98,324.43 C118.65,324.87 119.32,325.33 120,325.8 C120.67,326.27 121.34,326.75 122.02,327.24 C122.69,327.73 123.37,328.24 124.04,328.76 C124.71,329.27 125.39,329.8 126.06,330.34 C126.73,330.87 127.41,331.41 128.08,331.96 C128.75,332.51 129.43,333.07 130.1,333.62 C130.78,334.18 131.45,334.74 132.12,335.3 C132.8,335.87 133.47,336.44 134.14,337 C134.82,337.57 135.49,338.14 136.17,338.7 C136.84,339.27 137.51,339.83 138.19,340.39 C138.86,340.95 139.53,341.51 140.21,342.06 C140.88,342.61 141.56,343.16 142.23,343.71 C142.9,344.26 143.58,344.8 144.25,345.34 C144.92,345.88 145.6,346.42 146.27,346.95 C146.94,347.48 147.62,348 148.29,348.52 C148.97,349.05 149.64,349.56 150.31,350.07 C150.99,350.58 151.66,351.09 152.33,351.59 C153.01,352.09 153.68,352.58 154.36,353.07 C155.03,353.56 155.7,354.04 156.38,354.52 C157.05,355 157.72,355.46 158.4,355.93 C159.07,356.39 159.75,356.85 160.42,357.3 C161.09,357.75 161.77,358.2 162.44,358.63 C163.11,359.06 163.79,359.49 164.46,359.91 C165.13,360.33 165.81,360.74 166.48,361.15 C167.16,361.55 167.83,361.95 168.5,362.33 C169.18,362.72 169.85,363.1 170.52,363.47 C171.2,363.84 171.87,364.2 172.55,364.55 C173.22,364.9 173.89,365.24 174.57,365.58 C175.24,365.91 175.91,366.23 176.59,366.54 C177.26,366.86 177.94,367.16 178.61,367.45 C179.28,367.74 179.96,368.03 180.63,368.3 C181.3,368.57 181.98,368.83 182.65,369.09 C183.32,369.34 184,369.58 184.67,369.81 C185.35,370.05 186.02,370.27 186.69,370.49 C187.37,370.71 188.04,370.91 188.71,371.11 C189.39,371.31 190.06,371.5 190.74,371.68 C191.41,371.87 192.08,372.04 192.76,372.21 C193.43,372.37 194.1,372.53 194.78,372.68 C195.45,372.83 196.13,372.98 196.8,373.12 C197.47,373.26 198.15,373.39 198.82,373.51 C199.49,373.64 200.17,373.76 200.84,373.87 C201.51,373.98 202.19,374.09 202.86,374.19 C203.54,374.3 204.21,374.39 204.88,374.48 C205.56,374.57 206.23,374.65 206.9,374.73 C207.58,374.81 208.25,374.89 208.93,374.96 C209.6,375.03 210.27,375.1 210.95,375.17 C211.62,375.23 212.29,375.29 212.97,375.35 C213.64,375.41 214.32,375.46 214.99,375.51 C215.66,375.56 216.34,375.61 217.01,375.65 C217.68,375.69 218.36,375.74 219.03,375.78 C219.7,375.82 220.38,375.86 221.05,375.89 C221.73,375.93 222.4,375.96 223.07,375.99 C223.75,376.02 224.42,376.05 225.09,376.08 C225.77,376.11 226.44,376.14 227.12,376.17 C227.79,376.2 228.46,376.23 229.14,376.25 C229.81,376.28 230.48,376.31 231.16,376.34 C231.83,376.37 232.51,376.39 233.18,376.42 C233.85,376.45 234.86,376.5 235.2,376.52" fill="none" stroke="#800000" stroke-width="1.7" stroke-linejoin="round" stroke-linecap="round" />
<path d="M53.3,333.6 C53.64,333.31 54.65,332.49 55.32,331.89 C55.99,331.29 56.67,330.66 57.34,330.02 C58.02,329.37 58.69,328.69 59.36,328 C60.04,327.31 60.71,326.59 61.38,325.87 C62.06,325.14 62.73,324.39 63.41,323.64 C64.08,322.88 64.75,322.1 65.43,321.32 C66.1,320.54 66.77,319.73 67.45,318.93 C68.12,318.13 68.8,317.33 69.47,316.52 C70.14,315.71 70.82,314.89 71.49,314.07 C72.16,313.26 72.84,312.44 73.51,311.63 C74.18,310.82 74.86,310.01 75.53,309.21 C76.21,308.41 76.88,307.61 77.55,306.83 C78.23,306.04 78.9,305.26 79.57,304.5 C80.25,303.74 80.92,302.99 81.6,302.26 C82.27,301.54 82.94,300.83 83.62,300.15 C84.29,299.47 84.96,298.8 85.64,298.17 C86.31,297.54 86.99,296.94 87.66,296.37 C88.33,295.8 89.01,295.26 89.68,294.76 C90.35,294.26 91.03,293.79 91.7,293.37 C92.37,292.94 93.05,292.56 93.72,292.22 C94.4,291.88 95.07,291.58 95.74,291.34 C96.42,291.1 97.09,290.9 97.76,290.76 C98.44,290.62 99.11,290.53 99.79,290.49 C100.46,290.46 101.13,290.48 101.81,290.55 C102.48,290.61 103.15,290.73 103.83,290.89 C104.5,291.06 105.18,291.27 105.85,291.53 C106.52,291.78 107.2,292.08 107.87,292.42 C108.54,292.75 109.22,293.14 109.89,293.55 C110.56,293.96 111.24,294.42 111.91,294.9 C112.59,295.39 113.26,295.92 113.93,296.47 C114.61,297.02 115.28,297.6 115.95,298.21 C116.63,298.82 117.3,299.46 117.98,300.12 C118.65,300.78 119.32,301.48 120,302.18 C120.67,302.89 121.34,303.61 122.02,304.36 C122.69,305.11 123.37,305.87 124.04,306.66 C124.71,307.44 125.39,308.24 126.06,309.05 C126.73,309.86 127.41,310.68 128.08,311.51 C128.75,312.34 129.43,313.18 130.1,314.02 C130.78,314.87 131.45,315.72 132.12,316.57 C132.8,317.42 133.47,318.28 134.14,319.13 C134.82,319.99 135.49,320.85 136.17,321.7 C136.84,322.55 137.51,323.4 138.19,324.24 C138.86,325.08 139.53,325.92 140.21,326.75 C140.88,327.58 141.56,328.4 142.23,329.22 C142.9,330.04 143.58,330.86 144.25,331.67 C144.92,332.47 145.6,333.27 146.27,334.06 C146.94,334.85 147.62,335.64 148.29,336.41 C148.97,337.19 149.64,337.96 150.31,338.72 C150.99,339.48 151.66,340.23 152.33,340.98 C153.01,341.72 153.68,342.45 154.36,343.17 C155.03,343.9 155.7,344.61 156.38,345.32 C157.05,346.03 157.72,346.72 158.4,347.41 C159.07,348.09 159.75,348.77 160.42,349.44 C161.09,350.1 161.77,350.76 162.44,351.4 C163.11,352.04 163.79,352.67 164.46,353.29 C165.13,353.9 165.81,354.51 166.48,355.1 C167.16,355.7 167.83,356.28 168.5,356.85 C169.18,357.42 169.85,357.97 170.52,358.51 C171.2,359.05 171.87,359.58 172.55,360.1 C173.22,360.61 173.89,361.11 174.57,361.59 C175.24,362.07 175.91,362.54 176.59,362.99 C177.26,363.45 177.94,363.88 178.61,364.31 C179.28,364.73 179.96,365.14 180.63,365.53 C181.3,365.92 181.98,366.3 182.65,366.66 C183.32,367.02 184,367.36 184.67,367.69 C185.35,368.02 186.02,368.34 186.69,368.65 C187.37,368.95 188.04,369.24 188.71,369.52 C189.39,369.8 190.06,370.06 190.74,370.32 C191.41,370.57 192.08,370.81 192.76,371.04 C193.43,371.27 194.1,371.49 194.78,371.69 C195.45,371.9 196.13,372.1 196.8,372.28 C197.47,372.47 198.15,372.65 198.82,372.81 C199.49,372.98 200.17,373.14 200.84,373.29 C201.51,373.44 202.19,373.58 202.86,373.72 C203.54,373.85 204.21,373.98 204.88,374.09 C205.56,374.21 206.23,374.31 206.9,374.41 C207.58,374.51 208.25,374.61 208.93,374.7 C209.6,374.79 210.27,374.87 210.95,374.95 C211.62,375.03 212.29,375.1 212.97,375.17 C213.64,375.24 214.32,375.31 214.99,375.36 C215.66,375.42 216.34,375.47 217.01,375.52 C217.68,375.58 218.36,375.62 219.03,375.67 C219.7,375.71 220.38,375.76 221.05,375.8 C221.73,375.84 222.4,375.87 223.07,375.9 C223.75,375.94 224.42,375.97 225.09,376.01 C225.77,376.04 226.44,376.07 227.12,376.11 C227.79,376.14 228.46,376.17 229.14,376.2 C229.81,376.23 230.48,376.27 231.16,376.3 C231.83,376.34 232.51,376.37 233.18,376.4 C233.85,376.44 234.86,376.5 235.2,376.52" fill="none" stroke="#800080" stroke-width="1.7" stroke-linejoin="round" stroke-linecap="round" />
<path d="M53.3,329.41 C53.64,329.07 54.65,328.11 55.32,327.41 C55.99,326.71 56.67,325.98 57.34,325.22 C58.02,324.46 58.69,323.67 59.36,322.86 C60.04,322.05 60.71,321.22 61.38,320.37 C62.06,319.52 62.73,318.64 63.41,317.76 C64.08,316.87 64.75,315.96 65.43,315.04 C66.1,314.12 66.77,313.19 67.45,312.25 C68.12,311.31 68.8,310.37 69.47,309.42 C70.14,308.47 70.82,307.5 71.49,306.55 C72.16,305.59 72.84,304.64 73.51,303.69 C74.18,302.74 74.86,301.79 75.53,300.85 C76.21,299.91 76.88,298.98 77.55,298.05 C78.23,297.13 78.9,296.22 79.57,295.32 C80.25,294.43 80.92,293.55 81.6,292.7 C82.27,291.85 82.94,291.02 83.62,290.22 C84.29,289.42 84.96,288.64 85.64,287.9 C86.31,287.16 86.99,286.45 87.66,285.78 C88.33,285.11 89.01,284.48 89.68,283.89 C90.35,283.3 91.03,282.75 91.7,282.25 C92.37,281.76 93.05,281.3 93.72,280.9 C94.4,280.5 95.07,280.14 95.74,279.85 C96.42,279.56 97.09,279.33 97.76,279.15 C98.44,278.98 99.11,278.87 99.79,278.82 C100.46,278.77 101.13,278.79 101.81,278.86 C102.48,278.92 103.15,279.05 103.83,279.23 C104.5,279.41 105.18,279.65 105.85,279.94 C106.52,280.22 107.2,280.56 107.87,280.94 C108.54,281.32 109.22,281.76 109.89,282.23 C110.56,282.7 111.24,283.22 111.91,283.77 C112.59,284.33 113.26,284.93 113.93,285.56 C114.61,286.19 115.28,286.86 115.95,287.55 C116.63,288.25 117.3,288.98 117.98,289.73 C118.65,290.49 119.32,291.28 120,292.09 C120.67,292.9 121.34,293.73 122.02,294.59 C122.69,295.44 123.37,296.32 124.04,297.22 C124.71,298.11 125.39,299.03 126.06,299.96 C126.73,300.89 127.41,301.82 128.08,302.77 C128.75,303.72 129.43,304.69 130.1,305.66 C130.78,306.62 131.45,307.59 132.12,308.57 C132.8,309.54 133.47,310.53 134.14,311.51 C134.82,312.48 135.49,313.47 136.17,314.44 C136.84,315.41 137.51,316.39 138.19,317.35 C138.86,318.31 139.53,319.26 140.21,320.21 C140.88,321.16 141.56,322.1 142.23,323.04 C142.9,323.97 143.58,324.91 144.25,325.83 C144.92,326.75 145.6,327.66 146.27,328.56 C146.94,329.47 147.62,330.36 148.29,331.25 C148.97,332.13 149.64,333.01 150.31,333.87 C150.99,334.74 151.66,335.6 152.33,336.45 C153.01,337.29 153.68,338.12 154.36,338.95 C155.03,339.77 155.7,340.59 156.38,341.4 C157.05,342.2 157.72,342.99 158.4,343.77 C159.07,344.55 159.75,345.33 160.42,346.09 C161.09,346.84 161.77,347.59 162.44,348.32 C163.11,349.05 163.79,349.76 164.46,350.46 C165.13,351.17 165.81,351.85 166.48,352.53 C167.16,353.2 167.83,353.87 168.5,354.51 C169.18,355.16 169.85,355.79 170.52,356.4 C171.2,357.02 171.87,357.62 172.55,358.2 C173.22,358.78 173.89,359.35 174.57,359.89 C175.24,360.44 175.91,360.97 176.59,361.48 C177.26,362 177.94,362.49 178.61,362.97 C179.28,363.45 179.96,363.91 180.63,364.35 C181.3,364.8 181.98,365.22 182.65,365.62 C183.32,366.03 184,366.42 184.67,366.79 C185.35,367.16 186.02,367.52 186.69,367.86 C187.37,368.21 188.04,368.53 188.71,368.85 C189.39,369.16 190.06,369.45 190.74,369.74 C191.41,370.02 192.08,370.29 192.76,370.55 C193.43,370.8 194.1,371.04 194.78,371.27 C195.45,371.51 196.13,371.73 196.8,371.93 C197.47,372.14 198.15,372.34 198.82,372.52 C199.49,372.71 200.17,372.88 200.84,373.05 C201.51,373.22 202.19,373.37 202.86,373.52 C203.54,373.67 204.21,373.8 204.88,373.93 C205.56,374.06 206.23,374.17 206.9,374.28 C207.58,374.39 208.25,374.49 208.93,374.59 C209.6,374.69 210.27,374.78 210.95,374.86 C211.62,374.95 212.29,375.02 212.97,375.1 C213.64,375.17 214.32,375.24 214.99,375.31 C215.66,375.37 216.34,375.42 217.01,375.47 C217.68,375.53 218.36,375.58 219.03,375.63 C219.7,375.67 220.38,375.72 221.05,375.76 C221.73,375.8 222.4,375.83 223.07,375.87 C223.75,375.9 224.42,375.94 225.09,375.98 C225.77,376.01 226.44,376.05 227.12,376.08 C227.79,376.11 228.46,376.14 229.14,376.18 C229.81,376.21 230.48,376.25 231.16,376.29 C231.83,376.33 232.51,376.35 233.18,376.39 C233.85,376.43 234.86,376.5 235.2,376.52" fill="none" stroke="#000080" stroke-width="1.7" stroke-linejoin="round" stroke-linecap="round" />
<path d="M53.3,325.37 C53.64,325.02 54.65,324.03 55.32,323.32 C55.99,322.61 56.67,321.85 57.34,321.08 C58.02,320.3 58.69,319.49 59.36,318.66 C60.04,317.83 60.71,316.98 61.38,316.11 C62.06,315.24 62.73,314.35 63.41,313.44 C64.08,312.53 64.75,311.6 65.43,310.66 C66.1,309.72 66.77,308.76 67.45,307.81 C68.12,306.85 68.8,305.88 69.47,304.91 C70.14,303.94 70.82,302.96 71.49,301.98 C72.16,301.01 72.84,300.03 73.51,299.06 C74.18,298.09 74.86,297.12 75.53,296.16 C76.21,295.2 76.88,294.25 77.55,293.3 C78.23,292.36 78.9,291.43 79.57,290.51 C80.25,289.6 80.92,288.71 81.6,287.84 C82.27,286.97 82.94,286.12 83.62,285.31 C84.29,284.49 84.96,283.69 85.64,282.93 C86.31,282.18 86.99,281.46 87.66,280.78 C88.33,280.09 89.01,279.44 89.68,278.84 C90.35,278.25 91.03,277.69 91.7,277.18 C92.37,276.67 93.05,276.21 93.72,275.81 C94.4,275.4 95.07,275.04 95.74,274.75 C96.42,274.46 97.09,274.22 97.76,274.05 C98.44,273.88 99.11,273.77 99.79,273.73 C100.46,273.69 101.13,273.71 101.81,273.79 C102.48,273.87 103.15,274.01 103.83,274.21 C104.5,274.4 105.18,274.66 105.85,274.96 C106.52,275.26 107.2,275.62 107.87,276.02 C108.54,276.42 109.22,276.88 109.89,277.37 C110.56,277.87 111.24,278.41 111.91,278.99 C112.59,279.57 113.26,280.2 113.93,280.86 C114.61,281.52 115.28,282.21 115.95,282.94 C116.63,283.67 117.3,284.43 117.98,285.22 C118.65,286.01 119.32,286.84 120,287.69 C120.67,288.53 121.34,289.4 122.02,290.29 C122.69,291.18 123.37,292.1 124.04,293.03 C124.71,293.97 125.39,294.93 126.06,295.89 C126.73,296.86 127.41,297.84 128.08,298.83 C128.75,299.82 129.43,300.83 130.1,301.84 C130.78,302.84 131.45,303.86 132.12,304.87 C132.8,305.89 133.47,306.92 134.14,307.94 C134.82,308.96 135.49,309.99 136.17,311.01 C136.84,312.02 137.51,313.04 138.19,314.04 C138.86,315.05 139.53,316.04 140.21,317.03 C140.88,318.03 141.56,319.01 142.23,319.99 C142.9,320.97 143.58,321.95 144.25,322.91 C144.92,323.87 145.6,324.83 146.27,325.77 C146.94,326.72 147.62,327.66 148.29,328.58 C148.97,329.51 149.64,330.43 150.31,331.33 C150.99,332.24 151.66,333.15 152.33,334.03 C153.01,334.92 153.68,335.79 154.36,336.65 C155.03,337.52 155.7,338.38 156.38,339.22 C157.05,340.06 157.72,340.89 158.4,341.71 C159.07,342.53 159.75,343.34 160.42,344.14 C161.09,344.93 161.77,345.71 162.44,346.48 C163.11,347.24 163.79,348 164.46,348.73 C165.13,349.47 165.81,350.19 166.48,350.9 C167.16,351.61 167.83,352.31 168.5,352.98 C169.18,353.66 169.85,354.32 170.52,354.97 C171.2,355.62 171.87,356.25 172.55,356.86 C173.22,357.47 173.89,358.07 174.57,358.64 C175.24,359.22 175.91,359.78 176.59,360.32 C177.26,360.86 177.94,361.38 178.61,361.89 C179.28,362.39 179.96,362.88 180.63,363.35 C181.3,363.82 181.98,364.26 182.65,364.69 C183.32,365.12 184,365.53 184.67,365.92 C185.35,366.32 186.02,366.7 186.69,367.06 C187.37,367.43 188.04,367.78 188.71,368.11 C189.39,368.44 190.06,368.75 190.74,369.05 C191.41,369.36 192.08,369.64 192.76,369.92 C193.43,370.19 194.1,370.45 194.78,370.7 C195.45,370.94 196.13,371.18 196.8,371.4 C197.47,371.62 198.15,371.83 198.82,372.03 C199.49,372.23 200.17,372.42 200.84,372.6 C201.51,372.78 202.19,372.95 202.86,373.11 C203.54,373.27 204.21,373.41 204.88,373.55 C205.56,373.69 206.23,373.81 206.9,373.93 C207.58,374.05 208.25,374.17 208.93,374.27 C209.6,374.38 210.27,374.48 210.95,374.57 C211.62,374.67 212.29,374.75 212.97,374.83 C213.64,374.92 214.32,375 214.99,375.07 C215.66,375.14 216.34,375.19 217.01,375.25 C217.68,375.31 218.36,375.37 219.03,375.43 C219.7,375.48 220.38,375.53 221.05,375.58 C221.73,375.62 222.4,375.66 223.07,375.7 C223.75,375.74 224.42,375.79 225.09,375.83 C225.77,375.87 226.44,375.91 227.12,375.94 C227.79,375.98 228.46,376.01 229.14,376.05 C229.81,376.09 230.48,376.14 231.16,376.18 C231.83,376.22 232.51,376.25 233.18,376.29 C233.85,376.34 234.86,376.41 235.2,376.43" fill="none" stroke="#808000" stroke-width="1.7" stroke-linejoin="round" stroke-linecap="round" />
<path d="M53.3,320.73 C53.64,320.35 54.65,319.26 55.32,318.47 C55.99,317.69 56.67,316.86 57.34,316.01 C58.02,315.15 58.69,314.26 59.36,313.35 C60.04,312.44 60.71,311.49 61.38,310.54 C62.06,309.58 62.73,308.59 63.41,307.6 C64.08,306.6 64.75,305.57 65.43,304.54 C66.1,303.51 66.77,302.45 67.45,301.39 C68.12,300.34 68.8,299.28 69.47,298.21 C70.14,297.14 70.82,296.05 71.49,294.98 C72.16,293.91 72.84,292.83 73.51,291.76 C74.18,290.7 74.86,289.63 75.53,288.57 C76.21,287.51 76.88,286.46 77.55,285.42 C78.23,284.39 78.9,283.36 79.57,282.35 C80.25,281.35 80.92,280.36 81.6,279.4 C82.27,278.45 82.94,277.52 83.62,276.62 C84.29,275.72 84.96,274.83 85.64,274 C86.31,273.17 86.99,272.38 87.66,271.62 C88.33,270.87 89.01,270.16 89.68,269.5 C90.35,268.84 91.03,268.22 91.7,267.66 C92.37,267.1 93.05,266.59 93.72,266.15 C94.4,265.7 95.07,265.3 95.74,264.98 C96.42,264.66 97.09,264.4 97.76,264.21 C98.44,264.02 99.11,263.9 99.79,263.85 C100.46,263.8 101.13,263.83 101.81,263.92 C102.48,264 103.15,264.15 103.83,264.37 C104.5,264.58 105.18,264.86 105.85,265.19 C106.52,265.52 107.2,265.91 107.87,266.35 C108.54,266.79 109.22,267.29 109.89,267.83 C110.56,268.38 111.24,268.97 111.91,269.61 C112.59,270.24 113.26,270.93 113.93,271.65 C114.61,272.38 115.28,273.14 115.95,273.94 C116.63,274.74 117.3,275.57 117.98,276.44 C118.65,277.31 119.32,278.22 120,279.14 C120.67,280.07 121.34,281.02 122.02,282 C122.69,282.98 123.37,283.98 124.04,285.01 C124.71,286.03 125.39,287.09 126.06,288.15 C126.73,289.21 127.41,290.28 128.08,291.37 C128.75,292.46 129.43,293.56 130.1,294.67 C130.78,295.78 131.45,296.89 132.12,298 C132.8,299.12 133.47,300.25 134.14,301.37 C134.82,302.49 135.49,303.61 136.17,304.73 C136.84,305.84 137.51,306.96 138.19,308.06 C138.86,309.16 139.53,310.26 140.21,311.34 C140.88,312.43 141.56,313.51 142.23,314.58 C142.9,315.66 143.58,316.73 144.25,317.79 C144.92,318.84 145.6,319.89 146.27,320.93 C146.94,321.96 147.62,322.99 148.29,324.01 C148.97,325.02 149.64,326.03 150.31,327.02 C150.99,328.02 151.66,329.01 152.33,329.98 C153.01,330.95 153.68,331.91 154.36,332.86 C155.03,333.8 155.7,334.75 156.38,335.67 C157.05,336.59 157.72,337.5 158.4,338.4 C159.07,339.3 159.75,340.19 160.42,341.06 C161.09,341.93 161.77,342.79 162.44,343.63 C163.11,344.46 163.79,345.29 164.46,346.1 C165.13,346.9 165.81,347.7 166.48,348.47 C167.16,349.25 167.83,350.01 168.5,350.76 C169.18,351.5 169.85,352.22 170.52,352.93 C171.2,353.64 171.87,354.33 172.55,355 C173.22,355.67 173.89,356.33 174.57,356.96 C175.24,357.59 175.91,358.2 176.59,358.79 C177.26,359.38 177.94,359.96 178.61,360.51 C179.28,361.06 179.96,361.6 180.63,362.11 C181.3,362.62 181.98,363.11 182.65,363.58 C183.32,364.05 184,364.5 184.67,364.93 C185.35,365.36 186.02,365.78 186.69,366.18 C187.37,366.57 188.04,366.95 188.71,367.32 C189.39,367.68 190.06,368.02 190.74,368.35 C191.41,368.68 192.08,369 192.76,369.3 C193.43,369.6 194.1,369.88 194.78,370.15 C195.45,370.42 196.13,370.67 196.8,370.92 C197.47,371.16 198.15,371.39 198.82,371.61 C199.49,371.82 200.17,372.03 200.84,372.23 C201.51,372.42 202.19,372.61 202.86,372.78 C203.54,372.95 204.21,373.11 204.88,373.26 C205.56,373.41 206.23,373.55 206.9,373.68 C207.58,373.81 208.25,373.93 208.93,374.05 C209.6,374.17 210.27,374.28 210.95,374.38 C211.62,374.48 212.29,374.57 212.97,374.66 C213.64,374.75 214.32,374.83 214.99,374.91 C215.66,374.99 216.34,375.05 217.01,375.11 C217.68,375.18 218.36,375.24 219.03,375.3 C219.7,375.36 220.38,375.42 221.05,375.46 C221.73,375.51 222.4,375.55 223.07,375.6 C223.75,375.64 224.42,375.69 225.09,375.73 C225.77,375.78 226.44,375.82 227.12,375.86 C227.79,375.9 228.46,375.94 229.14,375.98 C229.81,376.02 230.48,376.07 231.16,376.11 C231.83,376.16 232.51,376.19 233.18,376.24 C233.85,376.29 234.86,376.37 235.2,376.39" fill="none" stroke="#c0c0c0" stroke-width="1.7" stroke-linejoin="round" stroke-linecap="round" />
<path d="M53.3,319.53 C53.64,319.13 54.65,317.99 55.32,317.16 C55.99,316.34 56.67,315.47 57.34,314.57 C58.02,313.67 58.69,312.73 59.36,311.78 C60.04,310.82 60.71,309.83 61.38,308.82 C62.06,307.81 62.73,306.78 63.41,305.73 C64.08,304.68 64.75,303.6 65.43,302.51 C66.1,301.43 66.77,300.31 67.45,299.2 C68.12,298.09 68.8,296.98 69.47,295.85 C70.14,294.73 70.82,293.59 71.49,292.46 C72.16,291.33 72.84,290.2 73.51,289.07 C74.18,287.95 74.86,286.83 75.53,285.71 C76.21,284.6 76.88,283.49 77.55,282.4 C78.23,281.31 78.9,280.23 79.57,279.17 C80.25,278.11 80.92,277.07 81.6,276.07 C82.27,275.06 82.94,274.08 83.62,273.13 C84.29,272.18 84.96,271.26 85.64,270.38 C86.31,269.51 86.99,268.67 87.66,267.88 C88.33,267.09 89.01,266.33 89.68,265.64 C90.35,264.94 91.03,264.29 91.7,263.7 C92.37,263.12 93.05,262.58 93.72,262.11 C94.4,261.63 95.07,261.21 95.74,260.87 C96.42,260.53 97.09,260.25 97.76,260.05 C98.44,259.85 99.11,259.72 99.79,259.66 C100.46,259.61 101.13,259.63 101.81,259.71 C102.48,259.8 103.15,259.95 103.83,260.17 C104.5,260.39 105.18,260.68 105.85,261.02 C106.52,261.36 107.2,261.76 107.87,262.22 C108.54,262.68 109.22,263.2 109.89,263.76 C110.56,264.32 111.24,264.94 111.91,265.6 C112.59,266.26 113.26,266.98 113.93,267.73 C114.61,268.48 115.28,269.28 115.95,270.11 C116.63,270.94 117.3,271.81 117.98,272.71 C118.65,273.61 119.32,274.56 120,275.52 C120.67,276.49 121.34,277.48 122.02,278.5 C122.69,279.51 123.37,280.56 124.04,281.63 C124.71,282.7 125.39,283.8 126.06,284.9 C126.73,286 127.41,287.12 128.08,288.25 C128.75,289.38 129.43,290.54 130.1,291.69 C130.78,292.84 131.45,294 132.12,295.16 C132.8,296.32 133.47,297.5 134.14,298.66 C134.82,299.83 135.49,301 136.17,302.16 C136.84,303.32 137.51,304.48 138.19,305.63 C138.86,306.78 139.53,307.91 140.21,309.04 C140.88,310.17 141.56,311.3 142.23,312.41 C142.9,313.53 143.58,314.64 144.25,315.74 C144.92,316.84 145.6,317.93 146.27,319.01 C146.94,320.09 147.62,321.15 148.29,322.21 C148.97,323.26 149.64,324.31 150.31,325.34 C150.99,326.38 151.66,327.41 152.33,328.42 C153.01,329.43 153.68,330.42 154.36,331.4 C155.03,332.39 155.7,333.37 156.38,334.33 C157.05,335.29 157.72,336.23 158.4,337.16 C159.07,338.09 159.75,339.02 160.42,339.92 C161.09,340.83 161.77,341.72 162.44,342.59 C163.11,343.46 163.79,344.31 164.46,345.15 C165.13,345.99 165.81,346.81 166.48,347.62 C167.16,348.42 167.83,349.22 168.5,349.99 C169.18,350.76 169.85,351.51 170.52,352.25 C171.2,352.98 171.87,353.7 172.55,354.39 C173.22,355.09 173.89,355.76 174.57,356.42 C175.24,357.07 175.91,357.71 176.59,358.32 C177.26,358.93 177.94,359.53 178.61,360.1 C179.28,360.67 179.96,361.23 180.63,361.75 C181.3,362.28 181.98,362.79 182.65,363.27 C183.32,363.76 184,364.22 184.67,364.67 C185.35,365.12 186.02,365.55 186.69,365.96 C187.37,366.37 188.04,366.76 188.71,367.14 C189.39,367.51 190.06,367.87 190.74,368.21 C191.41,368.55 192.08,368.87 192.76,369.18 C193.43,369.48 194.1,369.77 194.78,370.05 C195.45,370.33 196.13,370.59 196.8,370.84 C197.47,371.09 198.15,371.33 198.82,371.55 C199.49,371.77 200.17,371.99 200.84,372.19 C201.51,372.39 202.19,372.58 202.86,372.75 C203.54,372.93 204.21,373.09 204.88,373.25 C205.56,373.4 206.23,373.54 206.9,373.67 C207.58,373.8 208.25,373.93 208.93,374.05 C209.6,374.17 210.27,374.28 210.95,374.38 C211.62,374.48 212.29,374.58 212.97,374.67 C213.64,374.75 214.32,374.84 214.99,374.92 C215.66,374.99 216.34,375.06 217.01,375.12 C217.68,375.19 218.36,375.25 219.03,375.31 C219.7,375.37 220.38,375.42 221.05,375.47 C221.73,375.52 222.4,375.56 223.07,375.6 C223.75,375.65 224.42,375.7 225.09,375.74 C225.77,375.78 226.44,375.83 227.12,375.87 C227.79,375.91 228.46,375.94 229.14,375.99 C229.81,376.03 230.48,376.08 231.16,376.12 C231.83,376.17 232.51,376.2 233.18,376.25 C233.85,376.3 234.86,376.38 235.2,376.41" fill="none" stroke="#ff00ff" stroke-width="1.7" stroke-linejoin="round" stroke-linecap="round" />
<path d="M53.3,318.63 C53.64,318.22 54.65,317.01 55.32,316.14 C55.99,315.27 56.67,314.36 57.34,313.41 C58.02,312.47 58.69,311.48 59.36,310.47 C60.04,309.46 60.71,308.42 61.38,307.35 C62.06,306.29 62.73,305.2 63.41,304.1 C64.08,302.99 64.75,301.86 65.43,300.71 C66.1,299.57 66.77,298.39 67.45,297.22 C68.12,296.05 68.8,294.87 69.47,293.69 C70.14,292.5 70.82,291.3 71.49,290.11 C72.16,288.92 72.84,287.73 73.51,286.54 C74.18,285.36 74.86,284.17 75.53,283 C76.21,281.83 76.88,280.66 77.55,279.51 C78.23,278.36 78.9,277.21 79.57,276.1 C80.25,274.98 80.92,273.89 81.6,272.82 C82.27,271.76 82.94,270.73 83.62,269.73 C84.29,268.73 84.96,267.75 85.64,266.83 C86.31,265.9 86.99,265.02 87.66,264.19 C88.33,263.35 89.01,262.56 89.68,261.82 C90.35,261.09 91.03,260.4 91.7,259.78 C92.37,259.16 93.05,258.59 93.72,258.09 C94.4,257.59 95.07,257.14 95.74,256.77 C96.42,256.41 97.09,256.11 97.76,255.9 C98.44,255.68 99.11,255.54 99.79,255.47 C100.46,255.41 101.13,255.43 101.81,255.51 C102.48,255.59 103.15,255.75 103.83,255.97 C104.5,256.19 105.18,256.49 105.85,256.84 C106.52,257.19 107.2,257.61 107.87,258.08 C108.54,258.55 109.22,259.09 109.89,259.68 C110.56,260.26 111.24,260.9 111.91,261.59 C112.59,262.27 113.26,263.02 113.93,263.8 C114.61,264.58 115.28,265.41 115.95,266.27 C116.63,267.13 117.3,268.04 117.98,268.98 C118.65,269.92 119.32,270.9 120,271.91 C120.67,272.91 121.34,273.94 122.02,275 C122.69,276.06 123.37,277.15 124.04,278.26 C124.71,279.37 125.39,280.52 126.06,281.66 C126.73,282.81 127.41,283.98 128.08,285.15 C128.75,286.33 129.43,287.53 130.1,288.73 C130.78,289.93 131.45,291.13 132.12,292.34 C132.8,293.55 133.47,294.77 134.14,295.99 C134.82,297.2 135.49,298.42 136.17,299.63 C136.84,300.84 137.51,302.04 138.19,303.24 C138.86,304.43 139.53,305.61 140.21,306.78 C140.88,307.96 141.56,309.13 142.23,310.29 C142.9,311.45 143.58,312.61 144.25,313.75 C144.92,314.89 145.6,316.02 146.27,317.14 C146.94,318.26 147.62,319.37 148.29,320.47 C148.97,321.56 149.64,322.65 150.31,323.72 C150.99,324.8 151.66,325.87 152.33,326.91 C153.01,327.96 153.68,328.99 154.36,330.01 C155.03,331.03 155.7,332.05 156.38,333.05 C157.05,334.04 157.72,335.02 158.4,335.99 C159.07,336.96 159.75,337.92 160.42,338.85 C161.09,339.79 161.77,340.71 162.44,341.62 C163.11,342.52 163.79,343.41 164.46,344.28 C165.13,345.15 165.81,346 166.48,346.83 C167.16,347.67 167.83,348.49 168.5,349.29 C169.18,350.09 169.85,350.87 170.52,351.63 C171.2,352.39 171.87,353.13 172.55,353.85 C173.22,354.57 173.89,355.27 174.57,355.95 C175.24,356.63 175.91,357.28 176.59,357.92 C177.26,358.55 177.94,359.16 178.61,359.76 C179.28,360.35 179.96,360.92 180.63,361.47 C181.3,362.01 181.98,362.53 182.65,363.04 C183.32,363.54 184,364.02 184.67,364.48 C185.35,364.94 186.02,365.38 186.69,365.8 C187.37,366.23 188.04,366.63 188.71,367.02 C189.39,367.4 190.06,367.77 190.74,368.12 C191.41,368.46 192.08,368.8 192.76,369.11 C193.43,369.43 194.1,369.73 194.78,370.01 C195.45,370.3 196.13,370.57 196.8,370.82 C197.47,371.08 198.15,371.32 198.82,371.54 C199.49,371.77 200.17,371.99 200.84,372.19 C201.51,372.4 202.19,372.59 202.86,372.77 C203.54,372.95 204.21,373.12 204.88,373.27 C205.56,373.43 206.23,373.57 206.9,373.7 C207.58,373.84 208.25,373.96 208.93,374.08 C209.6,374.2 210.27,374.31 210.95,374.42 C211.62,374.52 212.29,374.61 212.97,374.7 C213.64,374.79 214.32,374.88 214.99,374.95 C215.66,375.03 216.34,375.09 217.01,375.16 C217.68,375.22 218.36,375.29 219.03,375.34 C219.7,375.4 220.38,375.46 221.05,375.51 C221.73,375.55 222.4,375.59 223.07,375.63 C223.75,375.68 224.42,375.72 225.09,375.77 C225.77,375.81 226.44,375.85 227.12,375.89 C227.79,375.93 228.46,375.97 229.14,376.01 C229.81,376.05 230.48,376.1 231.16,376.15 C231.83,376.19 232.51,376.23 233.18,376.27 C233.85,376.32 234.86,376.41 235.2,376.43" fill="none" stroke="#0000ff" stroke-width="1.7" stroke-linejoin="round" stroke-linecap="round" />
<path d="M53.3,306.66 C53.64,306.26 54.65,305.12 55.32,304.3 C55.99,303.48 56.67,302.61 57.34,301.72 C58.02,300.83 58.69,299.9 59.36,298.95 C60.04,298 60.71,297.02 61.38,296.02 C62.06,295.03 62.73,294.01 63.41,292.97 C64.08,291.93 64.75,290.87 65.43,289.79 C66.1,288.72 66.77,287.62 67.45,286.53 C68.12,285.44 68.8,284.33 69.47,283.23 C70.14,282.12 70.82,281 71.49,279.88 C72.16,278.77 72.84,277.66 73.51,276.55 C74.18,275.45 74.86,274.34 75.53,273.25 C76.21,272.16 76.88,271.07 77.55,270 C78.23,268.93 78.9,267.86 79.57,266.83 C80.25,265.79 80.92,264.77 81.6,263.78 C82.27,262.79 82.94,261.83 83.62,260.9 C84.29,259.98 84.96,259.07 85.64,258.21 C86.31,257.35 86.99,256.53 87.66,255.76 C88.33,254.99 89.01,254.25 89.68,253.57 C90.35,252.89 91.03,252.26 91.7,251.69 C92.37,251.12 93.05,250.61 93.72,250.16 C94.4,249.71 95.07,249.32 95.74,249 C96.42,248.69 97.09,248.45 97.76,248.28 C98.44,248.11 99.11,248.01 99.79,247.99 C100.46,247.97 101.13,248.03 101.81,248.15 C102.48,248.27 103.15,248.47 103.83,248.73 C104.5,248.99 105.18,249.32 105.85,249.71 C106.52,250.09 107.2,250.54 107.87,251.05 C108.54,251.55 109.22,252.12 109.89,252.74 C110.56,253.35 111.24,254.02 111.91,254.74 C112.59,255.46 113.26,256.23 113.93,257.04 C114.61,257.85 115.28,258.7 115.95,259.59 C116.63,260.49 117.3,261.42 117.98,262.38 C118.65,263.35 119.32,264.36 120,265.39 C120.67,266.42 121.34,267.48 122.02,268.57 C122.69,269.66 123.37,270.78 124.04,271.91 C124.71,273.05 125.39,274.22 126.06,275.4 C126.73,276.58 127.41,277.77 128.08,278.98 C128.75,280.19 129.43,281.42 130.1,282.65 C130.78,283.88 131.45,285.11 132.12,286.35 C132.8,287.6 133.47,288.85 134.14,290.1 C134.82,291.35 135.49,292.6 136.17,293.84 C136.84,295.09 137.51,296.33 138.19,297.56 C138.86,298.79 139.53,300.01 140.21,301.23 C140.88,302.45 141.56,303.65 142.23,304.86 C142.9,306.06 143.58,307.26 144.25,308.45 C144.92,309.63 145.6,310.81 146.27,311.97 C146.94,313.13 147.62,314.29 148.29,315.43 C148.97,316.57 149.64,317.7 150.31,318.83 C150.99,319.95 151.66,321.06 152.33,322.16 C153.01,323.25 153.68,324.33 154.36,325.4 C155.03,326.46 155.7,327.53 156.38,328.57 C157.05,329.61 157.72,330.64 158.4,331.65 C159.07,332.67 159.75,333.68 160.42,334.66 C161.09,335.65 161.77,336.61 162.44,337.57 C163.11,338.52 163.79,339.45 164.46,340.37 C165.13,341.28 165.81,342.18 166.48,343.06 C167.16,343.94 167.83,344.81 168.5,345.66 C169.18,346.5 169.85,347.33 170.52,348.13 C171.2,348.94 171.87,349.73 172.55,350.49 C173.22,351.26 173.89,352 174.57,352.73 C175.24,353.45 175.91,354.15 176.59,354.83 C177.26,355.51 177.94,356.17 178.61,356.8 C179.28,357.44 179.96,358.06 180.63,358.65 C181.3,359.24 181.98,359.8 182.65,360.35 C183.32,360.89 184,361.42 184.67,361.92 C185.35,362.43 186.02,362.91 186.69,363.38 C187.37,363.84 188.04,364.29 188.71,364.72 C189.39,365.14 190.06,365.55 190.74,365.94 C191.41,366.33 192.08,366.71 192.76,367.06 C193.43,367.42 194.1,367.75 194.78,368.08 C195.45,368.4 196.13,368.71 196.8,369.01 C197.47,369.3 198.15,369.58 198.82,369.84 C199.49,370.11 200.17,370.36 200.84,370.6 C201.51,370.84 202.19,371.07 202.86,371.28 C203.54,371.5 204.21,371.7 204.88,371.89 C205.56,372.08 206.23,372.25 206.9,372.41 C207.58,372.58 208.25,372.74 208.93,372.89 C209.6,373.04 210.27,373.18 210.95,373.31 C211.62,373.45 212.29,373.57 212.97,373.68 C213.64,373.8 214.32,373.92 214.99,374.02 C215.66,374.12 216.34,374.21 217.01,374.3 C217.68,374.39 218.36,374.48 219.03,374.56 C219.7,374.64 220.38,374.72 221.05,374.79 C221.73,374.86 222.4,374.91 223.07,374.98 C223.75,375.04 224.42,375.11 225.09,375.17 C225.77,375.23 226.44,375.29 227.12,375.35 C227.79,375.41 228.46,375.46 229.14,375.52 C229.81,375.57 230.48,375.64 231.16,375.7 C231.83,375.75 232.51,375.8 233.18,375.86 C233.85,375.92 234.86,376.02 235.2,376.06" fill="none" stroke="#ff0000" stroke-width="1.7" stroke-linejoin="round" stroke-linecap="round" />
</g>
<path d="M53.5,242.3 L53.5,377 L235.3,377" fill="none" stroke="#000" stroke-width="1.5" stroke-linejoin="miter" stroke-linecap="square"/>
<line x1="83.62" y1="377" x2="83.62" y2="380" stroke="#000" stroke-width="1.5" stroke-linecap="butt"/>
<line x1="134.14" y1="377" x2="134.14" y2="380" stroke="#000" stroke-width="1.5" stroke-linecap="butt"/>
<line x1="184.67" y1="377" x2="184.67" y2="380" stroke="#000" stroke-width="1.5" stroke-linecap="butt"/>
<line x1="235.2" y1="377" x2="235.2" y2="380" stroke="#000" stroke-width="1.5" stroke-linecap="butt"/>
<line x1="58.35" y1="377" x2="58.35" y2="378.8" stroke="#000" stroke-width="1.5" stroke-linecap="butt"/>
<line x1="108.88" y1="377" x2="108.88" y2="378.8" stroke="#000" stroke-width="1.5" stroke-linecap="butt"/>
<line x1="159.41" y1="377" x2="159.41" y2="378.8" stroke="#000" stroke-width="1.5" stroke-linecap="butt"/>
<line x1="209.94" y1="377" x2="209.94" y2="378.8" stroke="#000" stroke-width="1.5" stroke-linecap="butt"/>
<line x1="53.5" y1="377" x2="50.5" y2="377" stroke="#000" stroke-width="1.5" stroke-linecap="butt"/>
<line x1="53.5" y1="362.03" x2="50.5" y2="362.03" stroke="#000" stroke-width="1.5" stroke-linecap="butt"/>
<line x1="53.5" y1="347.07" x2="50.5" y2="347.07" stroke="#000" stroke-width="1.5" stroke-linecap="butt"/>
<line x1="53.5" y1="332.1" x2="50.5" y2="332.1" stroke="#000" stroke-width="1.5" stroke-linecap="butt"/>
<line x1="53.5" y1="317.13" x2="50.5" y2="317.13" stroke="#000" stroke-width="1.5" stroke-linecap="butt"/>
<line x1="53.5" y1="302.17" x2="50.5" y2="302.17" stroke="#000" stroke-width="1.5" stroke-linecap="butt"/>
<line x1="53.5" y1="287.2" x2="50.5" y2="287.2" stroke="#000" stroke-width="1.5" stroke-linecap="butt"/>
<line x1="53.5" y1="272.23" x2="50.5" y2="272.23" stroke="#000" stroke-width="1.5" stroke-linecap="butt"/>
<line x1="53.5" y1="257.27" x2="50.5" y2="257.27" stroke="#000" stroke-width="1.5" stroke-linecap="butt"/>
<line x1="53.5" y1="242.3" x2="50.5" y2="242.3" stroke="#000" stroke-width="1.5" stroke-linecap="butt"/>
<line x1="53.5" y1="369.52" x2="51.7" y2="369.52" stroke="#000" stroke-width="1.5" stroke-linecap="butt"/>
<line x1="53.5" y1="354.55" x2="51.7" y2="354.55" stroke="#000" stroke-width="1.5" stroke-linecap="butt"/>
<line x1="53.5" y1="339.58" x2="51.7" y2="339.58" stroke="#000" stroke-width="1.5" stroke-linecap="butt"/>
<line x1="53.5" y1="324.62" x2="51.7" y2="324.62" stroke="#000" stroke-width="1.5" stroke-linecap="butt"/>
<line x1="53.5" y1="309.65" x2="51.7" y2="309.65" stroke="#000" stroke-width="1.5" stroke-linecap="butt"/>
<line x1="53.5" y1="294.68" x2="51.7" y2="294.68" stroke="#000" stroke-width="1.5" stroke-linecap="butt"/>
<line x1="53.5" y1="279.72" x2="51.7" y2="279.72" stroke="#000" stroke-width="1.5" stroke-linecap="butt"/>
<line x1="53.5" y1="264.75" x2="51.7" y2="264.75" stroke="#000" stroke-width="1.5" stroke-linecap="butt"/>
<line x1="53.5" y1="249.78" x2="51.7" y2="249.78" stroke="#000" stroke-width="1.5" stroke-linecap="butt"/>
<text x="48.2" y="380.5" font-size="10.9" text-anchor="end" font-weight="bold" fill="#000" >0</text>
<text x="48.2" y="365.53" font-size="10.9" text-anchor="end" font-weight="bold" fill="#000" >50</text>
<text x="48.2" y="350.57" font-size="10.9" text-anchor="end" font-weight="bold" fill="#000" >100</text>
<text x="48.2" y="335.6" font-size="10.9" text-anchor="end" font-weight="bold" fill="#000" >150</text>
<text x="48.2" y="320.63" font-size="10.9" text-anchor="end" font-weight="bold" fill="#000" >200</text>
<text x="48.2" y="305.67" font-size="10.9" text-anchor="end" font-weight="bold" fill="#000" >250</text>
<text x="48.2" y="290.7" font-size="10.9" text-anchor="end" font-weight="bold" fill="#000" >300</text>
<text x="48.2" y="275.73" font-size="10.9" text-anchor="end" font-weight="bold" fill="#000" >350</text>
<text x="48.2" y="260.77" font-size="10.9" text-anchor="end" font-weight="bold" fill="#000" >400</text>
<text x="48.2" y="245.8" font-size="10.9" text-anchor="end" font-weight="bold" fill="#000" >450</text>
<text x="12.8" y="245.6" font-size="11.5" text-anchor="start" font-weight="bold" fill="#000" >(c)</text>
<text x="83.62" y="391.4" font-size="10.9" text-anchor="middle" font-weight="bold" fill="#000" >650</text>
<text x="134.14" y="391.4" font-size="10.9" text-anchor="middle" font-weight="bold" fill="#000" >700</text>
<text x="184.67" y="391.4" font-size="10.9" text-anchor="middle" font-weight="bold" fill="#000" >750</text>
<text x="235.2" y="391.4" font-size="10.9" text-anchor="middle" font-weight="bold" fill="#000" >800</text>
<text x="139.3" y="403.6" font-size="11.2" text-anchor="middle" font-weight="bold" fill="#000" >Wavelength (nm)</text>
<text transform="translate(18.4,316.4) rotate(-90)" font-size="11.6" text-anchor="middle" font-weight="bold">Fl.Intensity (a.u.)</text>
<line x1="157" y1="319.4" x2="157" y2="289.5" stroke="#333" stroke-width="1.5" stroke-linecap="butt"/>
<path d="M154.4,290.6 L157,284.8 L159.6,290.6 Z" fill="#333"/>
<text x="160" y="308.9" font-size="10.8" text-anchor="start" font-weight="bold" fill="#000" >ClO</text>
<line x1="204.2" y1="247.3" x2="213" y2="247.3" stroke="#000000" stroke-width="1.8" stroke-linecap="butt"/>
<text x="213.6" y="248.9" font-size="4.5" font-weight="bold">0<tspan dx="1.2" fill="#111" style="stroke-width:0.1px">&#956;M</tspan></text>
<line x1="204.2" y1="253.32" x2="213" y2="253.32" stroke="#808000" stroke-width="1.8" stroke-linecap="butt"/>
<text x="213.6" y="254.92" font-size="4.5" font-weight="bold">2.0<tspan dx="1.2" fill="#111" style="stroke-width:0.1px">&#956;M</tspan></text>
<line x1="204.2" y1="259.34" x2="213" y2="259.34" stroke="#008080" stroke-width="1.8" stroke-linecap="butt"/>
<text x="213.6" y="260.94" font-size="4.5" font-weight="bold">5.0<tspan dx="1.2" fill="#111" style="stroke-width:0.1px">&#956;M</tspan></text>
<line x1="204.2" y1="265.36" x2="213" y2="265.36" stroke="#ff00ff" stroke-width="1.8" stroke-linecap="butt"/>
<text x="213.6" y="266.96" font-size="4.5" font-weight="bold">10.0<tspan dx="1.2" fill="#111" style="stroke-width:0.1px">&#956;M</tspan></text>
<line x1="204.2" y1="271.38" x2="213" y2="271.38" stroke="#008000" stroke-width="1.8" stroke-linecap="butt"/>
<text x="213.6" y="272.98" font-size="4.5" font-weight="bold">20.0<tspan dx="1.2" fill="#111" style="stroke-width:0.1px">&#956;M</tspan></text>
<line x1="204.2" y1="277.4" x2="213" y2="277.4" stroke="#000080" stroke-width="1.8" stroke-linecap="butt"/>
<text x="213.6" y="279" font-size="4.5" font-weight="bold">30.0<tspan dx="1.2" fill="#111" style="stroke-width:0.1px">&#956;M</tspan></text>
<line x1="204.2" y1="283.42" x2="213" y2="283.42" stroke="#c0c0c0" stroke-width="1.8" stroke-linecap="butt"/>
<text x="213.6" y="285.02" font-size="4.5" font-weight="bold">40.0<tspan dx="1.2" fill="#111" style="stroke-width:0.1px">&#956;M</tspan></text>
<line x1="204.2" y1="289.44" x2="213" y2="289.44" stroke="#ff0080" stroke-width="1.8" stroke-linecap="butt"/>
<text x="213.6" y="291.04" font-size="4.5" font-weight="bold">50.0<tspan dx="1.2" fill="#111" style="stroke-width:0.1px">&#956;M</tspan></text>
<line x1="204.2" y1="295.46" x2="213" y2="295.46" stroke="#8000ff" stroke-width="1.8" stroke-linecap="butt"/>
<text x="213.6" y="297.06" font-size="4.5" font-weight="bold">60.0<tspan dx="1.2" fill="#111" style="stroke-width:0.1px">&#956;M</tspan></text>
<line x1="204.2" y1="301.48" x2="213" y2="301.48" stroke="#ff8000" stroke-width="1.8" stroke-linecap="butt"/>
<text x="213.6" y="303.08" font-size="4.5" font-weight="bold">70.0<tspan dx="1.2" fill="#111" style="stroke-width:0.1px">&#956;M</tspan></text>
<line x1="204.2" y1="307.5" x2="213" y2="307.5" stroke="#0000a0" stroke-width="1.8" stroke-linecap="butt"/>
<text x="213.6" y="309.1" font-size="4.5" font-weight="bold">80.0<tspan dx="1.2" fill="#111" style="stroke-width:0.1px">&#956;M</tspan></text>
<line x1="204.2" y1="313.52" x2="213" y2="313.52" stroke="#008080" stroke-width="1.8" stroke-linecap="butt"/>
<text x="213.6" y="315.12" font-size="4.5" font-weight="bold">90.0<tspan dx="1.2" fill="#111" style="stroke-width:0.1px">&#956;M</tspan></text>
<line x1="204.2" y1="319.54" x2="213" y2="319.54" stroke="#008000" stroke-width="1.8" stroke-linecap="butt"/>
<text x="213.6" y="321.14" font-size="4.5" font-weight="bold">100.0<tspan dx="1.2" fill="#111" style="stroke-width:0.1px">&#956;M</tspan></text>
<line x1="204.2" y1="325.56" x2="213" y2="325.56" stroke="#800000" stroke-width="1.8" stroke-linecap="butt"/>
<text x="213.6" y="327.16" font-size="4.5" font-weight="bold">200.0<tspan dx="1.2" fill="#111" style="stroke-width:0.1px">&#956;M</tspan></text>
<line x1="204.2" y1="331.58" x2="213" y2="331.58" stroke="#800080" stroke-width="1.8" stroke-linecap="butt"/>
<text x="213.6" y="333.18" font-size="4.5" font-weight="bold">400.0<tspan dx="1.2" fill="#111" style="stroke-width:0.1px">&#956;M</tspan></text>
<line x1="204.2" y1="337.6" x2="213" y2="337.6" stroke="#000080" stroke-width="1.8" stroke-linecap="butt"/>
<text x="213.6" y="339.2" font-size="4.5" font-weight="bold">600.0<tspan dx="1.2" fill="#111" style="stroke-width:0.1px">&#956;M</tspan></text>
<line x1="204.2" y1="343.62" x2="213" y2="343.62" stroke="#808000" stroke-width="1.8" stroke-linecap="butt"/>
<text x="213.6" y="345.22" font-size="4.5" font-weight="bold">1000.0<tspan dx="1.2" fill="#111" style="stroke-width:0.1px">&#956;M</tspan></text>
<line x1="204.2" y1="349.64" x2="213" y2="349.64" stroke="#c0c0c0" stroke-width="1.8" stroke-linecap="butt"/>
<text x="213.6" y="351.24" font-size="4.5" font-weight="bold">1200.0<tspan dx="1.2" fill="#111" style="stroke-width:0.1px">&#956;M</tspan></text>
<line x1="204.2" y1="355.66" x2="213" y2="355.66" stroke="#ff00ff" stroke-width="1.8" stroke-linecap="butt"/>
<text x="213.6" y="357.26" font-size="4.5" font-weight="bold">1400.0<tspan dx="1.2" fill="#111" style="stroke-width:0.1px">&#956;M</tspan></text>
<line x1="204.2" y1="361.68" x2="213" y2="361.68" stroke="#0000ff" stroke-width="1.8" stroke-linecap="butt"/>
<text x="213.6" y="363.28" font-size="4.5" font-weight="bold">1800.0<tspan dx="1.2" fill="#111" style="stroke-width:0.1px">&#956;M</tspan></text>
<line x1="204.2" y1="367.7" x2="213" y2="367.7" stroke="#ff0000" stroke-width="1.8" stroke-linecap="butt"/>
<text x="213.6" y="369.3" font-size="4.5" font-weight="bold">2000.0<tspan dx="1.2" fill="#111" style="stroke-width:0.1px">&#956;M</tspan></text>
<path d="M316.2,241.8 L316.2,377.1 L499.5,377.1" fill="none" stroke="#000" stroke-width="1.5" stroke-linejoin="miter" stroke-linecap="square"/>
<line x1="316.2" y1="377.1" x2="316.2" y2="380.1" stroke="#000" stroke-width="1.5" stroke-linecap="butt"/>
<line x1="377.3" y1="377.1" x2="377.3" y2="380.1" stroke="#000" stroke-width="1.5" stroke-linecap="butt"/>
<line x1="438.4" y1="377.1" x2="438.4" y2="380.1" stroke="#000" stroke-width="1.5" stroke-linecap="butt"/>
<line x1="499.5" y1="377.1" x2="499.5" y2="380.1" stroke="#000" stroke-width="1.5" stroke-linecap="butt"/>
<line x1="346.75" y1="377.1" x2="346.75" y2="378.9" stroke="#000" stroke-width="1.5" stroke-linecap="butt"/>
<line x1="407.85" y1="377.1" x2="407.85" y2="378.9" stroke="#000" stroke-width="1.5" stroke-linecap="butt"/>
<line x1="468.95" y1="377.1" x2="468.95" y2="378.9" stroke="#000" stroke-width="1.5" stroke-linecap="butt"/>
<line x1="316.2" y1="377.1" x2="313.2" y2="377.1" stroke="#000" stroke-width="1.5" stroke-linecap="butt"/>
<line x1="316.2" y1="364.8" x2="313.2" y2="364.8" stroke="#000" stroke-width="1.5" stroke-linecap="butt"/>
<line x1="316.2" y1="352.5" x2="313.2" y2="352.5" stroke="#000" stroke-width="1.5" stroke-linecap="butt"/>
<line x1="316.2" y1="340.2" x2="313.2" y2="340.2" stroke="#000" stroke-width="1.5" stroke-linecap="butt"/>
<line x1="316.2" y1="327.9" x2="313.2" y2="327.9" stroke="#000" stroke-width="1.5" stroke-linecap="butt"/>
<line x1="316.2" y1="315.6" x2="313.2" y2="315.6" stroke="#000" stroke-width="1.5" stroke-linecap="butt"/>
<line x1="316.2" y1="303.3" x2="313.2" y2="303.3" stroke="#000" stroke-width="1.5" stroke-linecap="butt"/>
<line x1="316.2" y1="291" x2="313.2" y2="291" stroke="#000" stroke-width="1.5" stroke-linecap="butt"/>
<line x1="316.2" y1="278.7" x2="313.2" y2="278.7" stroke="#000" stroke-width="1.5" stroke-linecap="butt"/>
<line x1="316.2" y1="266.4" x2="313.2" y2="266.4" stroke="#000" stroke-width="1.5" stroke-linecap="butt"/>
<line x1="316.2" y1="254.1" x2="313.2" y2="254.1" stroke="#000" stroke-width="1.5" stroke-linecap="butt"/>
<line x1="316.2" y1="241.8" x2="313.2" y2="241.8" stroke="#000" stroke-width="1.5" stroke-linecap="butt"/>
<line x1="316.2" y1="370.95" x2="314.4" y2="370.95" stroke="#000" stroke-width="1.5" stroke-linecap="butt"/>
<line x1="316.2" y1="358.65" x2="314.4" y2="358.65" stroke="#000" stroke-width="1.5" stroke-linecap="butt"/>
<line x1="316.2" y1="346.35" x2="314.4" y2="346.35" stroke="#000" stroke-width="1.5" stroke-linecap="butt"/>
<line x1="316.2" y1="334.05" x2="314.4" y2="334.05" stroke="#000" stroke-width="1.5" stroke-linecap="butt"/>
<line x1="316.2" y1="321.75" x2="314.4" y2="321.75" stroke="#000" stroke-width="1.5" stroke-linecap="butt"/>
<line x1="316.2" y1="309.45" x2="314.4" y2="309.45" stroke="#000" stroke-width="1.5" stroke-linecap="butt"/>
<line x1="316.2" y1="297.15" x2="314.4" y2="297.15" stroke="#000" stroke-width="1.5" stroke-linecap="butt"/>
<line x1="316.2" y1="284.85" x2="314.4" y2="284.85" stroke="#000" stroke-width="1.5" stroke-linecap="butt"/>
<line x1="316.2" y1="272.55" x2="314.4" y2="272.55" stroke="#000" stroke-width="1.5" stroke-linecap="butt"/>
<line x1="316.2" y1="260.25" x2="314.4" y2="260.25" stroke="#000" stroke-width="1.5" stroke-linecap="butt"/>
<line x1="316.2" y1="247.95" x2="314.4" y2="247.95" stroke="#000" stroke-width="1.5" stroke-linecap="butt"/>
<text x="311.6" y="379.9" font-size="10.6" text-anchor="end" font-weight="bold" fill="#000" >120</text>
<text x="311.6" y="367.6" font-size="10.6" text-anchor="end" font-weight="bold" fill="#000" >140</text>
<text x="311.6" y="355.3" font-size="10.6" text-anchor="end" font-weight="bold" fill="#000" >160</text>
<text x="311.6" y="343" font-size="10.6" text-anchor="end" font-weight="bold" fill="#000" >180</text>
<text x="311.6" y="330.7" font-size="10.6" text-anchor="end" font-weight="bold" fill="#000" >200</text>
<text x="311.6" y="318.4" font-size="10.6" text-anchor="end" font-weight="bold" fill="#000" >220</text>
<text x="311.6" y="306.1" font-size="10.6" text-anchor="end" font-weight="bold" fill="#000" >240</text>
<text x="311.6" y="293.8" font-size="10.6" text-anchor="end" font-weight="bold" fill="#000" >260</text>
<text x="311.6" y="281.5" font-size="10.6" text-anchor="end" font-weight="bold" fill="#000" >280</text>
<text x="311.6" y="269.2" font-size="10.6" text-anchor="end" font-weight="bold" fill="#000" >300</text>
<text x="311.6" y="256.9" font-size="10.6" text-anchor="end" font-weight="bold" fill="#000" >320</text>
<text x="311.6" y="244.6" font-size="10.6" text-anchor="end" font-weight="bold" fill="#000" >340</text>
<text x="277.5" y="246.8" font-size="10.6" text-anchor="start" font-weight="bold" fill="#000" >(d)</text>
<text x="316.2" y="391" font-size="10.6" text-anchor="middle" font-weight="bold" fill="#000" >0</text>
<text x="377.3" y="391" font-size="10.6" text-anchor="middle" font-weight="bold" fill="#000" >100</text>
<text x="438.4" y="391" font-size="10.6" text-anchor="middle" font-weight="bold" fill="#000" >200</text>
<text x="499.5" y="391" font-size="10.6" text-anchor="middle" font-weight="bold" fill="#000" >300</text>
<text x="403.6" y="405.4" font-size="11.4" text-anchor="middle" font-weight="bold" fill="#000" >Time (s)</text>
<text transform="translate(287.0,302.8) rotate(-90)" font-size="11.4" text-anchor="middle" font-weight="bold">Fl.intensity (a.u.)</text>
<line x1="459.3" y1="224.5" x2="469.2" y2="224.5" stroke="#000" stroke-width="1.7" stroke-linecap="butt"/>
<text x="469.4" y="225.7" font-size="7.8" text-anchor="start" font-weight="bold" fill="#000" >SWJT-9</text>
<line x1="459.3" y1="238.7" x2="469.2" y2="238.7" stroke="#ff0000" stroke-width="1.7" stroke-linecap="butt"/>
<text x="469.4" y="240.1" font-size="7.8" text-anchor="start" font-weight="bold" fill="#000" >SWJT-9+ClO</text>
<line x1="516.6" y1="234.8" x2="520" y2="234.8" stroke="#909090" stroke-width="1.1" stroke-linecap="butt"/>
<path d="M316.6,329 C316.72,328.77 316.93,329.1 317.3,327.6 C317.67,326.1 318.2,322.48 318.8,320 C319.4,317.52 319.95,315.58 320.9,312.7 C321.85,309.82 322.98,306.03 324.5,302.7 C326.02,299.37 327.87,295.73 330,292.7 C332.13,289.67 334.88,286.92 337.3,284.5 C339.72,282.08 342.38,279.95 344.5,278.2 C346.62,276.45 347.68,275.45 350,274 C352.32,272.55 355.98,270.62 358.4,269.5 C360.82,268.38 362.48,268.02 364.5,267.3 C366.52,266.58 368.5,265.85 370.5,265.2 C372.5,264.55 374.48,263.97 376.5,263.4 C378.52,262.83 380.6,262.32 382.6,261.8 C384.6,261.28 386.48,260.78 388.5,260.3 C390.52,259.82 392.78,259.35 394.7,258.9 C396.62,258.45 397.57,258.12 400,257.6 C402.43,257.08 405.97,256.4 409.3,255.8 C412.63,255.2 416.55,254.48 420,254 C423.45,253.52 426.67,253.18 430,252.9 C433.33,252.62 436.67,252.48 440,252.3 C443.33,252.12 446.67,251.97 450,251.8 C453.33,251.63 456.67,251.45 460,251.3 C463.33,251.15 466.67,251.03 470,250.9 C473.33,250.77 476.67,250.62 480,250.5 C483.33,250.38 486.75,250.3 490,250.2 C493.25,250.1 497.92,249.95 499.5,249.9" fill="none" stroke="#ff0000" stroke-width="1.7" stroke-linejoin="round" stroke-linecap="round" />
<path d="M316.4,368.5 C318.67,368.62 324.4,368.97 330,369.2 C335.6,369.43 343.33,369.67 350,369.9 C356.67,370.13 362.5,370.38 370,370.6 C377.5,370.82 386.67,371 395,371.2 C403.33,371.4 410.83,371.62 420,371.8 C429.17,371.98 440,372.18 450,372.3 C460,372.42 471.75,372.48 480,372.5 C488.25,372.52 496.25,372.42 499.5,372.4" fill="none" stroke="#000" stroke-width="1.7" stroke-linejoin="round" stroke-linecap="round" />
</svg>
</body></html>
